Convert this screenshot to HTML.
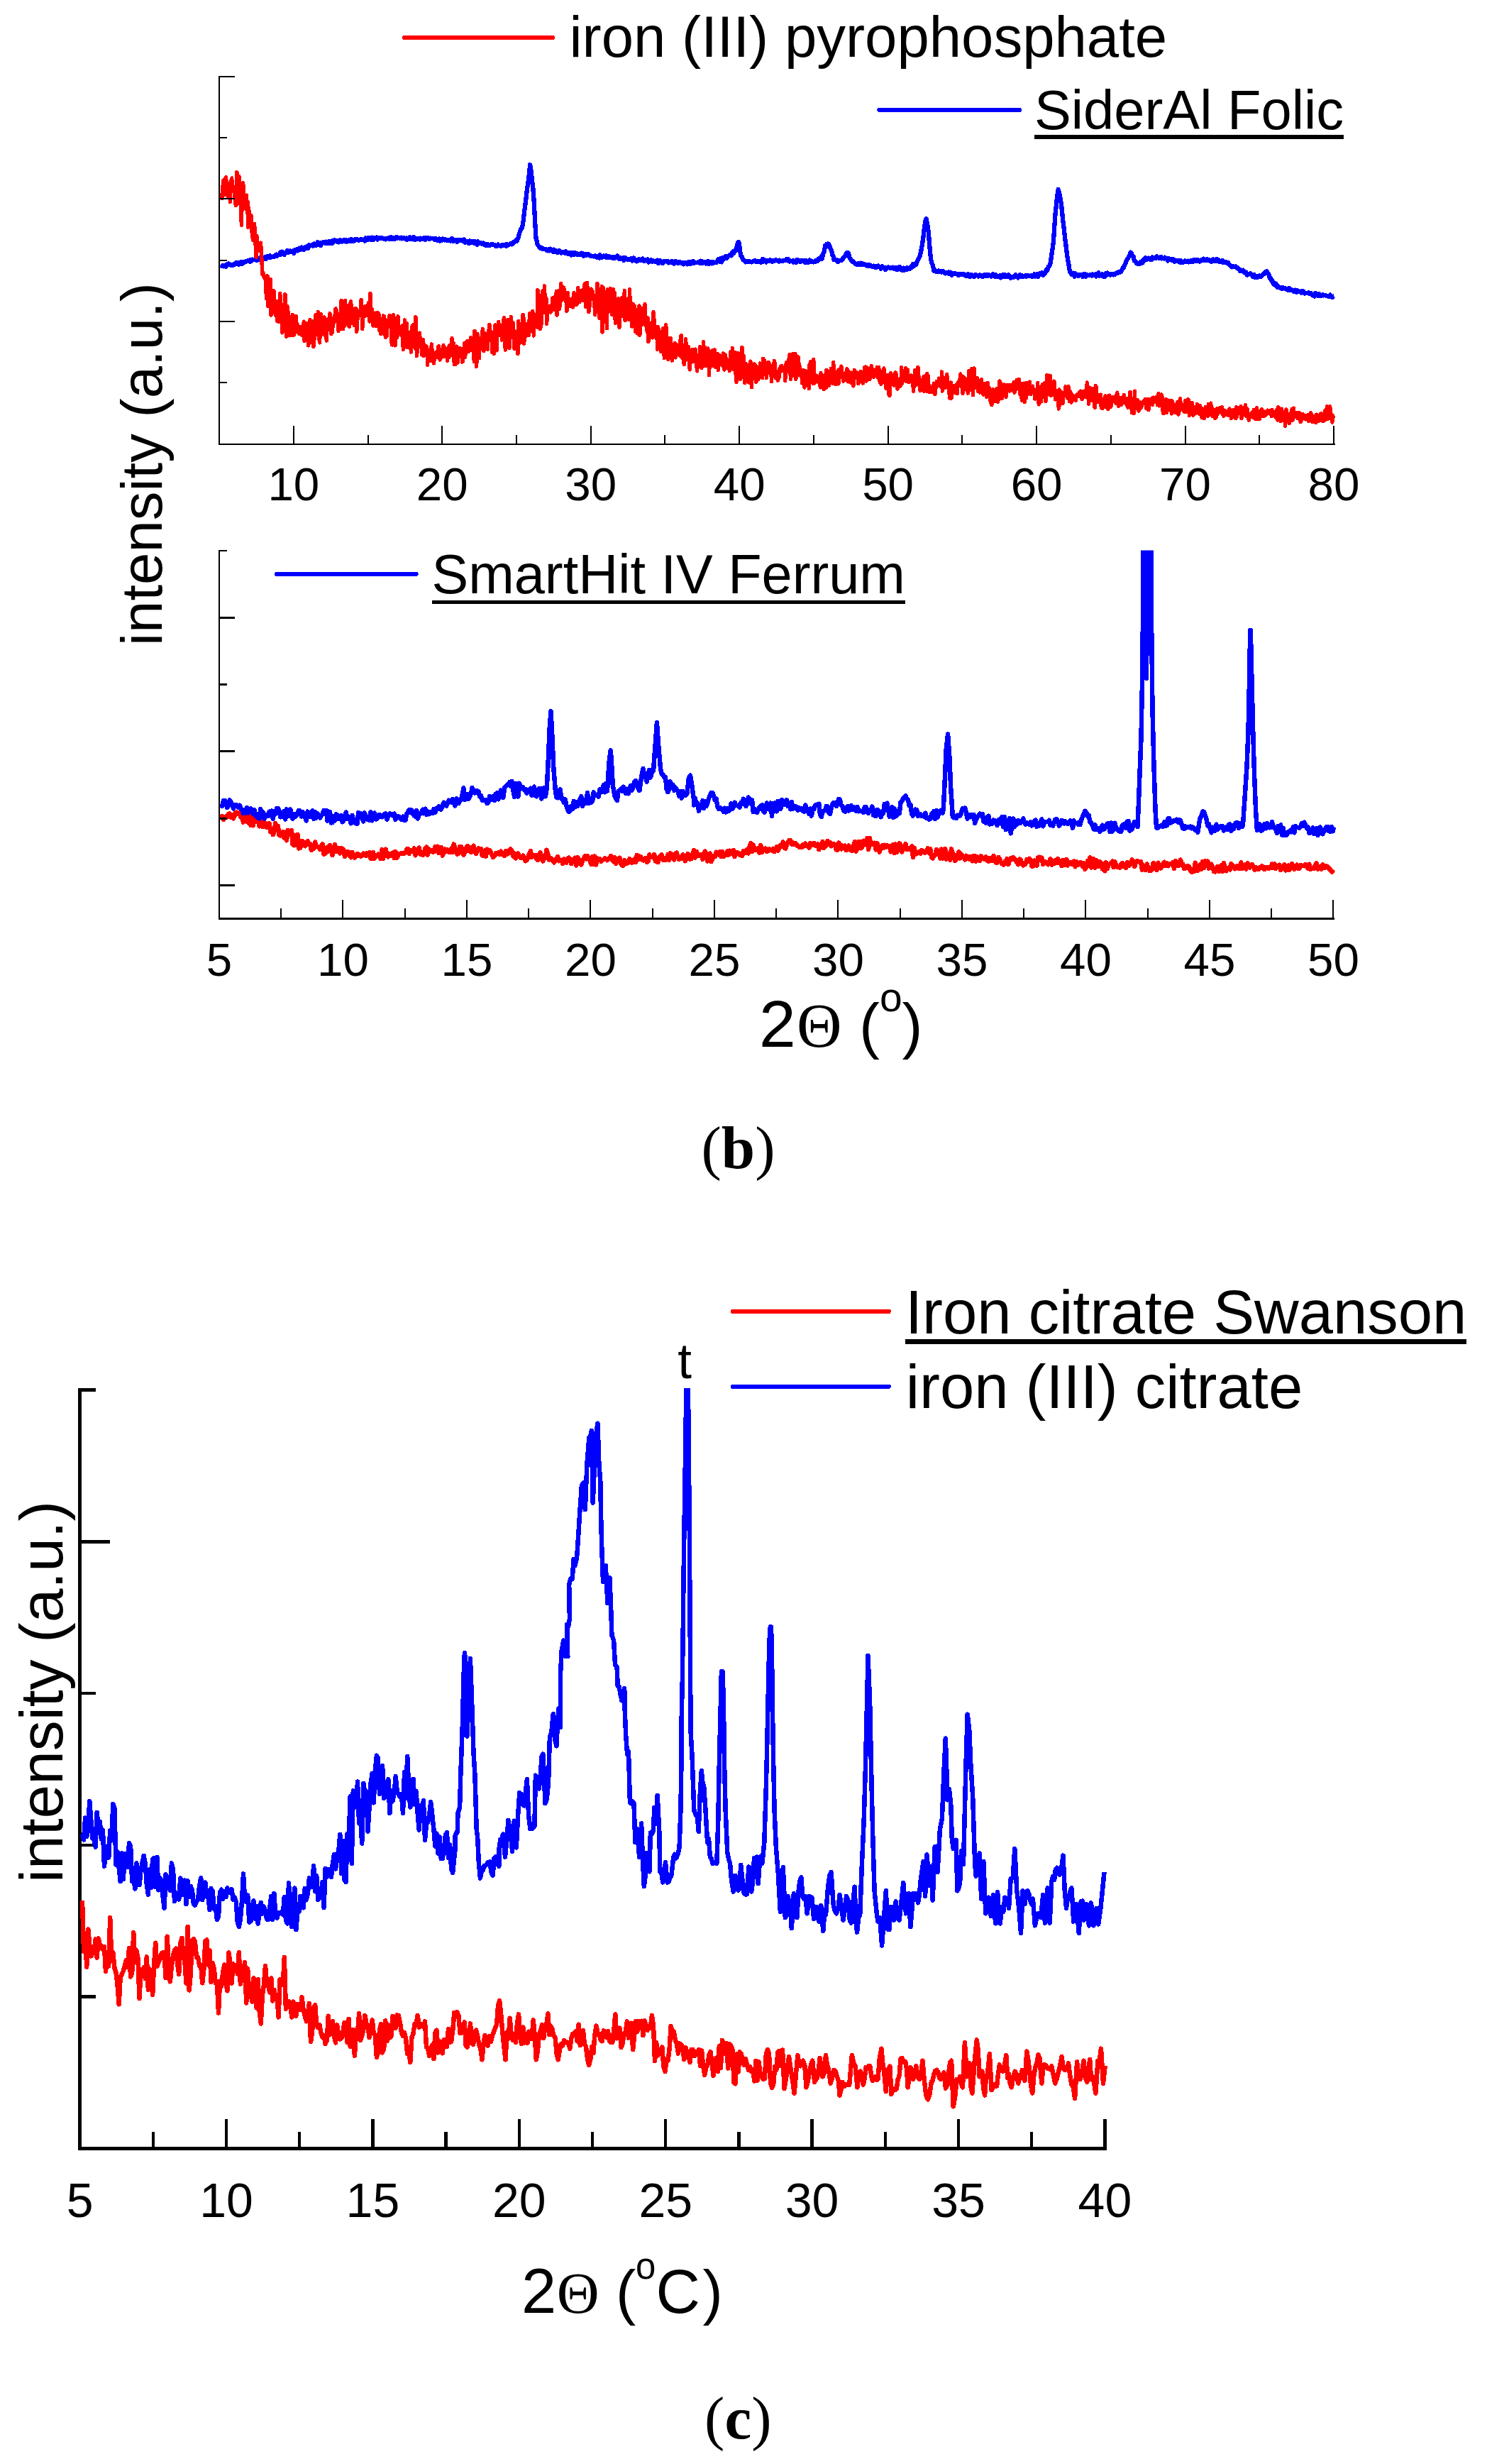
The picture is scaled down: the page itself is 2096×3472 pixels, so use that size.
<!DOCTYPE html>
<html><head><meta charset="utf-8"><title>XRD figure</title>
<style>
html,body{margin:0;padding:0;background:#fff;}
body{width:2096px;height:3472px;overflow:hidden;}
svg{display:block;}
svg line, svg polyline{shape-rendering:crispEdges;}
svg text{font-family:"Liberation Sans",Arial,sans-serif;fill:#000;}
svg .sf, svg .sf text, svg text.sf{font-family:"Liberation Serif","Times New Roman",serif;}
</style></head><body>
<svg width="2096" height="3472" viewBox="0 0 2096 3472">
<rect width="2096" height="3472" fill="#fff"/>
<g id="chartA">
<polyline fill="none" stroke="#00f" stroke-width="6.3" stroke-linejoin="round" stroke-linecap="butt" points="311.5,373.3 312.6,375.0 313.6,374.2 314.7,373.8 315.7,375.2 316.8,374.0 317.8,373.5 318.9,375.6 319.9,372.8 321.0,371.8 322.0,371.5 323.1,372.2 324.1,373.4 325.2,373.4 326.2,373.5 327.3,374.1 328.3,373.8 329.4,372.4 330.4,373.0 331.5,372.1 332.5,370.5 333.6,371.9 334.6,370.8 335.7,370.4 336.7,372.6 337.8,371.1 338.8,369.5 339.9,369.7 340.9,372.2 342.0,369.1 343.0,370.0 344.1,369.7 345.1,369.3 346.2,369.2 347.2,367.8 348.3,367.6 349.3,367.7 350.4,367.3 351.4,368.4 352.5,369.0 353.5,366.1 354.6,367.5 355.6,365.6 356.7,365.7 357.7,366.0 358.8,366.2 359.8,365.4 360.9,362.8 361.9,367.0 363.0,365.0 364.0,364.4 365.1,365.7 366.1,364.1 367.2,363.0 368.2,364.9 369.3,364.6 370.3,363.1 371.4,364.7 372.4,364.0 373.5,362.2 374.5,365.2 375.6,363.3 376.6,361.5 377.7,363.0 378.7,362.4 379.8,363.1 380.8,360.2 381.9,362.6 382.9,362.2 384.0,361.7 385.0,361.3 386.1,361.9 387.1,360.9 388.2,360.0 389.2,358.7 390.3,360.6 391.3,360.2 392.4,359.2 393.4,358.7 394.5,359.1 395.5,355.2 396.6,358.1 397.6,354.7 398.7,357.5 399.7,358.1 400.8,358.8 401.8,355.9 402.9,356.6 403.9,355.8 405.0,353.1 406.0,356.1 407.1,355.0 408.1,354.8 409.2,353.4 410.2,354.1 411.3,354.0 412.3,355.0 413.4,353.6 414.4,356.9 415.5,352.3 416.5,352.2 417.6,352.1 418.6,351.0 419.7,353.3 420.7,352.1 421.8,349.6 422.8,350.9 423.9,351.7 424.9,348.6 426.0,350.0 427.0,349.3 428.1,351.9 429.1,349.4 430.2,348.2 431.2,347.7 432.3,350.2 433.3,347.3 434.4,350.0 435.4,345.4 436.5,346.7 437.5,346.3 438.6,345.5 439.6,345.8 440.7,346.5 441.7,344.7 442.8,343.5 443.8,346.4 444.9,346.3 445.9,343.8 447.0,344.7 448.0,341.3 449.1,345.1 450.1,342.3 451.2,343.0 452.2,345.9 453.3,341.9 454.3,343.1 455.4,341.7 456.4,340.7 457.5,341.2 458.5,342.7 459.6,340.7 460.6,341.3 461.7,342.6 462.7,341.5 463.8,340.0 464.8,342.9 465.9,341.2 466.9,342.5 468.0,339.6 469.0,342.4 470.1,338.9 471.1,338.4 472.2,339.8 473.2,339.8 474.3,340.4 475.3,339.4 476.4,340.7 477.4,341.4 478.5,339.1 479.5,338.2 480.6,339.2 481.6,340.5 482.7,340.4 483.7,339.1 484.8,338.3 485.8,339.3 486.9,340.3 487.9,338.4 489.0,340.5 490.0,339.3 491.1,339.3 492.1,338.2 493.2,340.3 494.2,338.8 495.3,337.0 496.3,339.5 497.4,338.0 498.4,339.6 499.5,338.5 500.5,337.5 501.6,338.4 502.6,337.5 503.7,337.1 504.7,337.9 505.8,338.8 506.8,337.8 507.9,337.6 508.9,337.0 510.0,338.2 511.0,337.8 512.1,338.4 513.1,337.7 514.2,339.6 515.2,335.4 516.3,337.0 517.3,337.6 518.4,337.9 519.4,335.1 520.5,335.4 521.5,336.6 522.6,337.8 523.6,337.7 524.7,334.7 525.7,336.5 526.8,337.6 527.8,336.3 528.9,335.1 529.9,335.4 531.0,334.7 532.0,337.5 533.1,335.9 534.1,335.6 535.2,335.1 536.2,335.9 537.3,335.0 538.3,334.9 539.4,335.9 540.4,335.7 541.5,336.5 542.5,336.1 543.6,337.2 544.6,335.8 545.7,336.1 546.7,336.1 547.8,334.9 548.8,337.1 549.9,335.1 550.9,333.9 552.0,337.1 553.0,336.4 554.1,335.0 555.1,336.7 556.2,336.6 557.2,336.4 558.3,334.3 559.3,335.8 560.4,334.5 561.4,334.9 562.4,335.0 563.5,334.7 564.5,336.2 565.6,334.8 566.6,336.4 567.7,335.9 568.7,335.0 569.8,335.9 570.8,336.5 571.9,337.0 572.9,335.5 574.0,337.7 575.0,336.4 576.1,337.2 577.1,334.3 578.2,334.6 579.2,337.1 580.3,335.6 581.3,336.3 582.4,337.2 583.4,334.2 584.5,336.4 585.5,338.0 586.6,336.8 587.6,336.0 588.7,336.5 589.7,335.9 590.8,336.8 591.8,337.4 592.9,335.7 593.9,336.6 595.0,336.4 596.0,336.9 597.1,337.1 598.1,335.1 599.2,337.6 600.2,337.4 601.3,335.3 602.3,336.2 603.4,335.0 604.4,336.4 605.5,337.1 606.5,335.6 607.6,336.1 608.6,336.0 609.7,336.3 610.7,336.3 611.8,336.0 612.8,337.9 613.9,337.1 614.9,336.5 616.0,338.6 617.0,337.0 618.1,338.7 619.1,336.4 620.2,339.4 621.2,337.4 622.3,336.8 623.3,338.4 624.4,336.5 625.4,336.8 626.5,338.3 627.5,337.5 628.6,338.5 629.6,338.3 630.7,338.4 631.7,338.3 632.8,339.0 633.8,338.2 634.9,339.5 635.9,339.3 637.0,336.1 638.0,336.4 639.1,340.1 640.1,337.9 641.2,338.6 642.2,338.3 643.3,338.8 644.3,341.0 645.4,337.8 646.4,338.7 647.5,338.7 648.5,337.7 649.6,338.1 650.6,338.9 651.7,339.3 652.7,339.9 653.8,337.5 654.8,338.1 655.9,341.8 656.9,339.9 658.0,341.2 659.0,340.0 660.1,339.8 661.1,343.1 662.2,339.6 663.2,340.1 664.3,342.0 665.3,341.4 666.4,339.8 667.4,341.9 668.5,342.7 669.5,340.4 670.6,341.6 671.6,343.2 672.7,344.6 673.7,340.1 674.8,342.1 675.8,343.0 676.9,342.1 677.9,342.3 679.0,342.9 680.0,344.1 681.1,342.5 682.1,344.8 683.2,344.9 684.2,345.1 685.3,346.0 686.3,343.8 687.4,344.5 688.4,345.8 689.5,346.2 690.5,346.0 691.6,344.6 692.6,344.7 693.7,343.9 694.7,345.0 695.8,344.7 696.8,345.3 697.9,345.5 698.9,347.0 700.0,347.0 701.0,346.0 702.1,344.7 703.1,345.8 704.2,346.3 705.2,346.7 706.3,345.9 707.3,346.5 708.4,344.8 709.4,346.2 710.5,346.3 711.5,345.0 712.6,344.5 713.6,346.6 714.7,344.1 715.7,345.9 716.8,344.8 717.8,344.6 718.9,344.2 719.9,343.2 721.0,343.0 722.0,344.3 723.1,343.2 724.1,340.8 725.2,340.8 726.2,340.5 727.3,338.4 728.3,340.2 729.4,337.4 730.4,335.2 731.5,330.6 732.5,327.5 733.6,324.7 734.6,322.2 735.7,321.2 736.7,316.8 737.8,310.6 738.8,300.8 739.9,291.8 740.9,284.6 742.0,275.6 743.0,265.8 744.1,259.2 745.1,251.9 746.2,241.9 747.2,232.3 748.3,238.5 749.3,247.2 750.4,257.5 751.4,265.9 752.5,280.8 753.5,300.0 754.6,320.2 755.6,336.4 756.7,339.1 757.7,345.3 758.8,346.2 759.8,347.5 760.9,349.5 761.9,348.2 763.0,349.1 764.0,350.5 765.1,349.7 766.1,350.4 767.2,351.1 768.2,351.0 769.3,350.9 770.3,352.0 771.4,353.1 772.4,353.4 773.5,351.3 774.5,353.3 775.6,350.6 776.6,351.3 777.7,353.5 778.7,353.8 779.8,354.9 780.8,351.7 781.9,354.9 782.9,353.3 784.0,353.6 785.0,354.7 786.1,356.0 787.1,353.6 788.2,352.9 789.2,354.3 790.3,355.0 791.3,356.6 792.4,355.9 793.4,355.3 794.5,355.3 795.5,355.5 796.6,357.2 797.6,354.5 798.7,355.7 799.7,355.6 800.8,358.0 801.8,357.0 802.9,356.3 803.9,358.0 805.0,359.4 806.0,358.5 807.1,356.1 808.1,357.4 809.2,359.0 810.2,355.9 811.3,356.7 812.3,357.7 813.4,358.9 814.4,357.5 815.5,358.7 816.5,358.5 817.6,359.2 818.6,357.6 819.7,356.6 820.7,356.9 821.8,359.5 822.8,360.6 823.9,360.1 824.9,358.0 826.0,358.0 827.0,359.7 828.1,359.1 829.1,358.2 830.2,359.6 831.2,359.5 832.3,360.3 833.3,361.0 834.4,360.9 835.4,360.9 836.5,361.4 837.5,360.8 838.6,360.5 839.6,360.7 840.7,362.5 841.7,361.0 842.8,362.3 843.8,363.3 844.9,363.5 845.9,359.3 847.0,361.9 848.0,362.9 849.1,361.4 850.1,361.2 851.2,360.6 852.2,361.5 853.3,362.3 854.3,360.3 855.4,362.5 856.4,361.7 857.5,362.7 858.5,361.5 859.6,362.8 860.6,362.9 861.7,362.1 862.7,362.2 863.8,364.1 864.8,363.8 865.9,362.4 866.9,363.8 868.0,362.2 869.0,363.0 870.1,360.5 871.1,363.2 872.2,364.6 873.2,363.4 874.3,364.7 875.3,363.5 876.4,364.6 877.4,364.2 878.5,363.4 879.5,366.9 880.6,363.8 881.6,363.3 882.7,365.1 883.7,365.5 884.8,365.5 885.8,365.1 886.9,365.8 887.9,366.4 889.0,366.1 890.0,364.0 891.1,367.5 892.1,365.7 893.2,363.6 894.2,366.8 895.3,365.8 896.3,366.4 897.4,368.3 898.4,365.7 899.5,365.6 900.5,365.3 901.6,366.7 902.6,367.3 903.7,367.1 904.7,367.0 905.8,364.5 906.8,367.2 907.9,368.2 908.9,366.5 910.0,366.5 911.0,366.1 912.1,367.5 913.1,365.6 914.2,369.5 915.2,367.2 916.3,366.8 917.3,366.2 918.4,368.2 919.4,368.8 920.5,367.1 921.5,368.0 922.6,368.2 923.6,369.0 924.7,368.7 925.7,369.4 926.8,366.6 927.8,371.1 928.9,367.7 929.9,367.1 931.0,367.4 932.0,368.9 933.1,369.4 934.1,371.3 935.2,370.0 936.2,367.9 937.3,368.4 938.3,368.3 939.4,368.2 940.4,368.8 941.5,368.3 942.5,370.3 943.6,369.5 944.6,369.8 945.7,369.0 946.7,368.0 947.8,369.8 948.8,368.9 949.9,371.6 950.9,370.8 952.0,368.2 953.0,368.5 954.1,369.0 955.1,369.4 956.2,371.0 957.2,369.6 958.3,370.3 959.3,369.5 960.4,369.7 961.4,371.3 962.5,370.1 963.5,372.3 964.6,370.1 965.6,370.6 966.7,370.6 967.7,370.9 968.8,372.3 969.8,369.4 970.9,369.5 971.9,369.1 973.0,372.1 974.0,370.6 975.1,370.6 976.1,370.5 977.2,368.0 978.2,370.9 979.3,370.1 980.3,370.3 981.4,370.1 982.4,369.9 983.5,369.9 984.5,369.3 985.6,369.7 986.6,370.6 987.7,367.6 988.7,370.8 989.8,370.6 990.8,368.7 991.9,370.4 992.9,370.1 994.0,369.1 995.0,371.5 996.1,369.8 997.1,369.4 998.2,368.0 999.2,371.8 1000.3,369.6 1001.3,369.6 1002.4,368.9 1003.4,371.4 1004.5,368.9 1005.5,370.7 1006.6,370.1 1007.6,369.9 1008.7,369.5 1009.7,370.0 1010.8,368.5 1011.8,365.9 1012.9,364.8 1013.9,368.5 1015.0,364.6 1016.0,367.8 1017.1,369.3 1018.1,363.4 1019.2,365.7 1020.2,365.1 1021.3,363.3 1022.3,361.3 1023.4,362.7 1024.4,364.0 1025.5,361.3 1026.5,360.7 1027.6,360.1 1028.6,359.3 1029.7,358.9 1030.7,360.3 1031.8,356.2 1032.8,354.6 1033.9,357.0 1034.9,354.9 1036.0,354.4 1037.0,352.7 1038.1,349.7 1039.1,345.0 1040.2,341.5 1041.2,341.0 1042.3,346.3 1043.3,355.0 1044.4,360.8 1045.4,360.9 1046.5,363.9 1047.5,366.3 1048.6,366.7 1049.6,367.7 1050.7,369.3 1051.7,367.9 1052.8,367.8 1053.8,369.1 1054.9,368.3 1055.9,367.8 1057.0,368.7 1058.0,368.7 1059.1,369.4 1060.1,369.4 1061.2,368.4 1062.2,368.2 1063.3,367.2 1064.3,368.4 1065.4,367.7 1066.4,369.0 1067.5,368.9 1068.5,368.7 1069.6,367.9 1070.6,368.3 1071.7,369.6 1072.7,369.8 1073.8,367.2 1074.8,364.8 1075.9,368.5 1076.9,366.1 1078.0,367.8 1079.0,368.3 1080.1,369.4 1081.1,367.5 1082.2,367.6 1083.2,367.0 1084.3,368.0 1085.3,366.3 1086.4,368.2 1087.4,367.9 1088.5,369.0 1089.5,367.2 1090.6,367.9 1091.6,367.7 1092.7,367.4 1093.7,366.4 1094.8,366.8 1095.8,367.4 1096.9,367.9 1097.9,368.5 1099.0,366.7 1100.0,367.6 1101.1,367.9 1102.1,368.2 1103.2,367.5 1104.2,367.4 1105.3,366.8 1106.3,367.3 1107.4,367.1 1108.4,365.5 1109.5,366.6 1110.5,364.8 1111.6,368.0 1112.6,368.5 1113.7,367.2 1114.7,367.8 1115.8,367.8 1116.8,367.4 1117.9,369.4 1118.9,367.6 1120.0,368.2 1121.0,367.8 1122.1,370.1 1123.1,366.2 1124.2,368.3 1125.2,366.6 1126.3,367.3 1127.3,367.1 1128.4,369.0 1129.4,367.1 1130.5,367.2 1131.5,368.0 1132.6,367.3 1133.6,367.2 1134.7,370.0 1135.7,367.5 1136.8,367.3 1137.8,369.7 1138.9,368.3 1139.9,369.4 1141.0,366.4 1142.0,367.8 1143.1,368.6 1144.1,368.3 1145.2,368.6 1146.2,369.4 1147.3,368.6 1148.3,369.2 1149.4,368.8 1150.4,366.9 1151.5,367.2 1152.5,367.8 1153.6,364.6 1154.6,365.6 1155.7,365.0 1156.7,365.1 1157.8,361.1 1158.8,364.9 1159.9,358.4 1160.9,355.9 1162.0,354.4 1163.0,346.0 1164.1,348.0 1165.1,344.2 1166.2,344.5 1167.2,343.5 1168.3,344.7 1169.3,346.3 1170.4,349.5 1171.4,351.4 1172.5,354.5 1173.5,359.7 1174.6,360.9 1175.6,366.1 1176.7,366.1 1177.7,366.5 1178.8,366.0 1179.8,366.3 1180.9,369.1 1181.9,367.6 1183.0,367.2 1184.0,366.7 1185.1,366.7 1186.1,367.2 1187.2,366.2 1188.2,364.0 1189.3,362.9 1190.3,361.9 1191.4,359.9 1192.4,358.8 1193.5,356.1 1194.5,357.6 1195.6,356.5 1196.6,359.6 1197.7,363.7 1198.7,364.3 1199.8,366.4 1200.8,367.9 1201.9,368.1 1202.9,369.7 1204.0,369.8 1205.0,370.9 1206.1,371.9 1207.1,372.6 1208.2,372.7 1209.2,371.8 1210.3,371.1 1211.3,372.5 1212.4,373.0 1213.4,370.6 1214.5,373.0 1215.5,371.5 1216.6,372.8 1217.6,373.3 1218.7,372.5 1219.7,373.2 1220.8,373.9 1221.8,372.9 1222.9,374.9 1223.9,375.0 1225.0,375.0 1226.0,373.4 1227.1,374.5 1228.1,374.5 1229.2,375.1 1230.2,376.0 1231.3,374.7 1232.3,375.4 1233.4,376.5 1234.4,375.3 1235.5,376.6 1236.5,375.9 1237.6,374.6 1238.6,376.2 1239.7,376.5 1240.7,376.1 1241.8,378.8 1242.8,376.4 1243.9,375.3 1244.9,376.9 1246.0,376.9 1247.0,377.7 1248.1,380.0 1249.1,377.5 1250.2,378.3 1251.2,376.7 1252.3,376.5 1253.3,376.8 1254.4,377.5 1255.4,377.2 1256.5,377.8 1257.5,377.2 1258.6,376.6 1259.6,377.2 1260.7,378.9 1261.7,376.9 1262.8,379.1 1263.8,380.1 1264.9,377.3 1265.9,379.4 1267.0,379.4 1268.0,375.8 1269.1,379.8 1270.1,379.7 1271.2,378.3 1272.2,381.3 1273.3,377.6 1274.3,381.1 1275.4,380.2 1276.4,378.8 1277.5,379.6 1278.5,377.4 1279.6,379.3 1280.6,378.8 1281.7,379.1 1282.7,378.9 1283.8,376.2 1284.8,377.1 1285.9,375.3 1286.9,371.8 1288.0,375.1 1289.0,374.4 1290.1,372.4 1291.1,373.2 1292.2,370.2 1293.2,367.3 1294.3,365.9 1295.3,363.3 1296.4,361.1 1297.4,357.5 1298.5,352.7 1299.5,347.0 1300.6,339.8 1301.6,332.8 1302.7,322.6 1303.7,315.4 1304.8,309.7 1305.8,308.3 1306.9,315.6 1307.9,320.2 1309.0,329.2 1310.0,343.0 1311.1,355.6 1312.1,365.0 1313.2,370.2 1314.2,372.3 1315.3,375.6 1316.3,381.6 1317.4,380.3 1318.4,381.2 1319.5,382.4 1320.5,383.2 1321.6,382.1 1322.6,381.5 1323.7,382.5 1324.7,382.2 1325.8,383.2 1326.8,383.6 1327.9,382.2 1328.9,383.1 1330.0,382.6 1331.0,384.2 1332.1,385.3 1333.1,385.4 1334.2,384.9 1335.2,383.8 1336.3,384.9 1337.3,383.6 1338.4,385.9 1339.4,383.7 1340.5,384.8 1341.5,387.6 1342.6,386.3 1343.6,384.9 1344.7,385.9 1345.7,385.1 1346.8,385.5 1347.8,386.1 1348.9,385.7 1349.9,387.0 1351.0,388.0 1352.0,385.9 1353.1,385.9 1354.1,386.1 1355.2,386.4 1356.2,387.2 1357.3,386.4 1358.3,386.2 1359.4,386.5 1360.4,388.4 1361.5,388.4 1362.5,388.6 1363.6,387.7 1364.6,386.5 1365.7,389.1 1366.7,390.1 1367.8,387.0 1368.8,387.1 1369.9,389.0 1370.9,388.6 1372.0,388.3 1373.0,390.2 1374.1,387.8 1375.1,387.2 1376.2,387.7 1377.2,388.4 1378.3,388.4 1379.3,389.6 1380.4,389.1 1381.4,387.5 1382.5,389.1 1383.5,388.1 1384.6,390.0 1385.6,389.6 1386.7,387.8 1387.7,389.0 1388.8,387.0 1389.8,389.0 1390.9,388.6 1391.9,389.0 1393.0,387.2 1394.0,387.6 1395.1,388.0 1396.1,388.3 1397.2,389.4 1398.2,387.7 1399.3,386.4 1400.3,388.1 1401.4,389.5 1402.4,389.7 1403.5,387.3 1404.5,389.5 1405.6,388.9 1406.6,389.6 1407.7,389.0 1408.7,390.2 1409.8,388.1 1410.8,391.3 1411.9,390.1 1412.9,387.6 1414.0,387.2 1415.0,390.1 1416.1,387.3 1417.1,388.1 1418.2,389.8 1419.2,389.4 1420.3,389.9 1421.3,387.4 1422.4,388.9 1423.4,390.3 1424.5,392.0 1425.5,390.1 1426.6,389.7 1427.6,389.8 1428.7,390.7 1429.7,390.3 1430.8,388.6 1431.8,387.4 1432.9,389.3 1433.9,389.1 1435.0,391.5 1436.0,388.5 1437.1,390.3 1438.1,387.3 1439.2,390.3 1440.2,388.0 1441.3,389.4 1442.3,389.2 1443.4,389.5 1444.4,389.3 1445.5,388.0 1446.5,389.9 1447.6,388.2 1448.6,389.1 1449.7,388.1 1450.7,389.0 1451.8,388.9 1452.8,388.7 1453.9,388.0 1454.9,390.2 1456.0,388.6 1457.0,388.9 1458.1,386.3 1459.1,389.4 1460.2,386.9 1461.2,388.4 1462.3,386.0 1463.3,390.0 1464.4,385.6 1465.4,386.8 1466.5,385.4 1467.5,385.0 1468.6,384.0 1469.6,387.2 1470.7,387.6 1471.7,384.7 1472.8,385.3 1473.8,382.2 1474.9,380.0 1475.9,381.6 1477.0,378.8 1478.0,375.2 1479.1,374.8 1480.1,373.3 1481.2,366.6 1482.2,359.8 1483.3,352.2 1484.3,345.8 1485.4,333.3 1486.4,317.7 1487.5,301.4 1488.5,293.1 1489.6,282.0 1490.6,273.3 1491.7,266.7 1492.7,271.2 1493.8,274.4 1494.8,281.5 1495.9,286.6 1496.9,296.9 1498.0,307.7 1499.0,316.6 1500.1,325.5 1501.1,335.2 1502.2,343.1 1503.2,352.3 1504.3,360.5 1505.3,367.2 1506.4,372.8 1507.4,379.2 1508.5,383.8 1509.5,384.8 1510.6,386.6 1511.6,385.6 1512.7,384.7 1513.7,387.4 1514.8,389.8 1515.8,385.2 1516.9,388.2 1517.9,387.2 1519.0,386.8 1520.0,389.3 1521.1,388.3 1522.1,388.3 1523.2,386.8 1524.2,387.6 1525.3,386.9 1526.3,389.8 1527.4,388.0 1528.4,385.8 1529.5,387.6 1530.5,389.6 1531.6,387.0 1532.6,387.5 1533.7,387.7 1534.7,388.3 1535.8,388.3 1536.8,387.0 1537.9,387.3 1538.9,388.5 1540.0,386.5 1541.0,387.3 1542.1,388.0 1543.1,387.3 1544.2,386.5 1545.2,389.4 1546.3,387.7 1547.3,387.2 1548.4,384.3 1549.4,388.7 1550.5,388.5 1551.5,387.4 1552.6,387.4 1553.6,386.4 1554.7,389.5 1555.7,388.2 1556.8,389.6 1557.8,389.6 1558.9,385.0 1559.9,387.7 1561.0,384.6 1562.0,387.2 1563.1,386.8 1564.1,386.1 1565.2,387.4 1566.2,386.7 1567.3,386.2 1568.3,386.2 1569.4,387.4 1570.4,386.9 1571.5,386.9 1572.5,385.9 1573.6,384.7 1574.6,384.2 1575.7,384.6 1576.7,383.1 1577.8,382.8 1578.8,383.9 1579.9,382.9 1580.9,380.8 1582.0,379.4 1583.0,376.9 1584.1,376.9 1585.1,373.5 1586.2,371.9 1587.2,368.7 1588.3,367.1 1589.3,364.1 1590.4,363.6 1591.4,361.4 1592.5,359.1 1593.5,355.7 1594.6,356.4 1595.6,359.0 1596.7,360.5 1597.7,361.3 1598.8,367.6 1599.8,367.5 1600.9,369.4 1601.9,370.7 1603.0,370.5 1604.0,372.2 1605.1,371.0 1606.1,372.0 1607.2,370.3 1608.2,368.7 1609.3,368.8 1610.3,370.5 1611.4,366.5 1612.4,366.1 1613.5,366.9 1614.5,363.2 1615.6,364.6 1616.6,365.7 1617.7,365.1 1618.7,363.8 1619.8,364.6 1620.8,364.8 1621.9,365.8 1622.9,366.0 1624.0,362.6 1625.0,364.5 1626.1,363.4 1627.1,364.2 1628.2,363.1 1629.2,363.7 1630.3,361.4 1631.3,363.0 1632.4,363.1 1633.4,363.6 1634.5,363.6 1635.5,362.2 1636.6,361.9 1637.6,364.3 1638.7,363.6 1639.7,363.9 1640.8,364.6 1641.8,362.7 1642.9,363.6 1643.9,364.0 1645.0,364.1 1646.0,367.4 1647.1,363.8 1648.1,365.8 1649.2,366.1 1650.2,365.4 1651.3,366.9 1652.3,365.7 1653.4,365.3 1654.4,365.6 1655.5,368.6 1656.5,366.9 1657.6,367.7 1658.6,368.3 1659.7,368.3 1660.7,367.2 1661.8,369.1 1662.8,369.5 1663.9,367.0 1664.9,369.6 1666.0,369.2 1667.0,369.8 1668.1,369.2 1669.1,368.3 1670.2,367.6 1671.2,369.1 1672.3,368.8 1673.3,368.8 1674.4,367.7 1675.4,369.5 1676.5,369.2 1677.5,369.3 1678.6,367.5 1679.6,368.7 1680.7,369.1 1681.7,366.5 1682.8,367.1 1683.8,368.2 1684.9,366.2 1685.9,367.6 1687.0,367.7 1688.0,365.9 1689.1,368.0 1690.1,367.3 1691.2,368.5 1692.2,367.0 1693.3,366.4 1694.3,366.8 1695.4,367.2 1696.4,364.6 1697.5,366.2 1698.5,367.2 1699.6,367.3 1700.6,366.9 1701.7,365.3 1702.7,366.4 1703.8,367.0 1704.8,366.6 1705.9,366.7 1706.9,368.6 1708.0,368.7 1709.0,366.1 1710.1,365.6 1711.1,366.7 1712.2,368.1 1713.2,365.6 1714.3,365.7 1715.3,365.4 1716.4,368.0 1717.4,366.3 1718.5,367.0 1719.5,369.2 1720.6,368.4 1721.6,367.7 1722.7,366.9 1723.7,369.9 1724.8,369.1 1725.8,368.9 1726.9,369.9 1727.9,369.1 1729.0,370.5 1730.0,371.0 1731.1,370.1 1732.1,372.1 1733.2,373.0 1734.2,374.5 1735.3,374.4 1736.3,376.3 1737.4,375.4 1738.4,375.0 1739.5,375.9 1740.5,376.1 1741.6,375.5 1742.6,376.9 1743.7,377.8 1744.7,377.1 1745.8,378.8 1746.8,380.0 1747.9,381.9 1748.9,380.5 1750.0,380.9 1751.0,381.1 1752.1,380.7 1753.1,383.7 1754.2,383.1 1755.2,383.5 1756.3,383.6 1757.3,387.1 1758.4,387.5 1759.4,387.0 1760.5,386.4 1761.5,385.8 1762.6,385.0 1763.6,386.9 1764.7,387.2 1765.7,389.9 1766.8,388.3 1767.8,387.1 1768.9,390.8 1769.9,390.2 1771.0,389.4 1772.0,390.5 1773.1,390.6 1774.1,389.2 1775.2,388.5 1776.2,389.3 1777.3,389.6 1778.3,389.2 1779.4,387.1 1780.4,386.4 1781.5,386.2 1782.5,384.3 1783.6,383.4 1784.6,384.7 1785.7,382.2 1786.7,385.0 1787.8,385.5 1788.8,388.2 1789.9,391.8 1790.9,392.1 1792.0,395.1 1793.0,394.6 1794.1,397.9 1795.1,400.6 1796.2,399.4 1797.2,399.7 1798.3,399.6 1799.3,403.5 1800.4,402.5 1801.4,404.9 1802.5,404.3 1803.5,404.8 1804.6,406.2 1805.6,405.7 1806.7,407.0 1807.7,405.2 1808.8,405.4 1809.8,406.3 1810.9,405.8 1811.9,406.4 1813.0,407.7 1814.0,407.3 1815.1,407.0 1816.1,409.2 1817.2,406.0 1818.2,407.1 1819.3,407.7 1820.3,409.2 1821.4,409.1 1822.4,409.2 1823.5,410.5 1824.5,409.1 1825.6,408.6 1826.6,411.0 1827.7,411.7 1828.7,409.2 1829.8,409.8 1830.8,410.6 1831.9,411.4 1832.9,411.4 1834.0,412.4 1835.0,410.0 1836.1,411.4 1837.1,410.4 1838.2,413.2 1839.2,413.5 1840.3,412.8 1841.3,412.8 1842.4,412.8 1843.4,413.0 1844.5,412.4 1845.5,413.9 1846.6,414.3 1847.6,413.0 1848.7,414.4 1849.7,415.7 1850.8,416.0 1851.8,416.9 1852.9,417.6 1853.9,413.1 1855.0,414.3 1856.0,414.5 1857.1,415.6 1858.1,416.9 1859.2,413.8 1860.2,416.1 1861.3,416.0 1862.3,417.1 1863.4,416.4 1864.4,415.3 1865.5,416.4 1866.5,415.7 1867.6,416.2 1868.6,416.2 1869.7,416.6 1870.7,417.2 1871.8,417.3 1872.8,418.3 1873.9,418.0 1874.9,415.6 1876.0,418.3 1877.0,417.4 1878.1,419.1 1879.1,417.7 1880.2,417.5"/>
<polyline fill="none" stroke="#f00" stroke-width="5.4" stroke-linejoin="round" stroke-linecap="butt" points="311.5,272.1 312.3,277.6 313.1,279.3 313.9,265.1 314.7,254.2 315.5,264.0 316.3,268.7 317.1,274.2 317.9,251.3 318.7,250.0 319.5,269.1 320.3,266.3 321.1,276.3 321.9,270.4 322.7,259.3 323.5,258.4 324.3,284.4 325.1,260.0 325.9,254.9 326.7,251.0 327.5,267.6 328.3,269.3 329.1,263.5 329.9,268.4 330.7,274.4 331.5,282.0 332.3,289.8 333.1,276.5 333.9,242.9 334.7,287.3 335.5,249.5 336.3,273.3 337.1,248.7 337.9,278.3 338.7,263.6 339.5,283.3 340.3,317.2 341.1,279.3 341.9,295.9 342.7,257.8 343.5,276.7 344.3,293.5 345.1,281.2 345.9,290.8 346.7,288.9 347.5,275.0 348.3,299.9 349.1,283.8 349.9,320.3 350.7,293.4 351.5,309.3 352.3,304.1 353.1,316.9 353.9,303.1 354.7,325.9 355.5,314.8 356.3,338.3 357.1,332.8 357.9,328.5 358.7,315.4 359.5,344.4 360.3,341.5 361.1,362.7 361.9,332.6 362.7,349.5 363.5,351.0 364.3,349.9 365.1,351.1 365.9,353.1 366.7,345.0 367.5,342.2 368.3,353.6 369.1,370.5 369.9,386.9 370.7,384.0 371.5,389.2 372.3,389.6 373.1,392.6 373.9,389.4 374.7,402.0 375.5,420.6 376.3,391.9 377.1,388.8 377.9,431.3 378.7,407.8 379.5,421.4 380.3,422.4 381.1,393.4 381.9,444.0 382.7,442.2 383.5,419.6 384.3,430.1 385.1,422.6 385.9,409.7 386.7,423.0 387.5,431.9 388.3,444.3 389.1,440.3 389.9,433.1 390.7,452.7 391.5,424.4 392.3,447.6 393.1,453.6 393.9,434.4 394.7,413.3 395.5,427.5 396.3,445.9 397.1,451.7 397.9,468.9 398.7,429.2 399.5,444.8 400.3,454.7 401.1,442.4 401.9,414.8 402.7,456.7 403.5,474.2 404.3,459.4 405.1,431.5 405.9,438.8 406.7,447.9 407.5,472.9 408.3,453.3 409.1,446.3 409.9,467.1 410.7,447.0 411.5,472.8 412.3,443.6 413.1,448.1 413.9,463.1 414.7,471.8 415.5,465.3 416.3,463.5 417.1,445.3 417.9,455.6 418.7,456.8 419.5,457.8 420.3,468.2 421.1,460.1 421.9,470.6 422.7,464.4 423.5,460.9 424.3,465.3 425.1,468.4 425.9,472.5 426.7,460.7 427.5,463.2 428.3,453.2 429.1,480.5 429.9,479.5 430.7,464.9 431.5,462.5 432.3,455.8 433.1,469.1 433.9,469.8 434.7,486.9 435.5,470.9 436.3,461.6 437.1,450.4 437.9,482.9 438.7,471.7 439.5,454.7 440.3,471.2 441.1,452.7 441.9,488.8 442.7,479.4 443.5,473.2 444.3,464.6 445.1,443.5 445.9,463.8 446.7,446.5 447.5,471.2 448.3,439.2 449.1,451.6 449.9,477.6 450.7,482.8 451.5,446.6 452.3,442.3 453.1,471.8 453.9,471.1 454.7,449.0 455.5,452.4 456.3,452.4 457.1,446.8 457.9,452.4 458.7,473.2 459.5,466.8 460.3,480.1 461.1,458.2 461.9,457.5 462.7,449.1 463.5,457.3 464.3,445.9 465.1,441.7 465.9,464.2 466.7,470.6 467.5,464.6 468.3,469.0 469.1,458.1 469.9,447.9 470.7,455.4 471.5,450.1 472.3,441.8 473.1,434.8 473.9,436.2 474.7,451.7 475.5,452.9 476.3,445.3 477.1,466.6 477.9,451.7 478.7,456.0 479.5,463.2 480.3,437.9 481.1,423.3 481.9,456.9 482.7,439.2 483.5,463.8 484.3,451.9 485.1,460.1 485.9,457.2 486.7,423.6 487.5,456.7 488.3,439.9 489.1,439.0 489.9,442.9 490.7,457.5 491.5,458.9 492.3,460.4 493.1,428.5 493.9,441.3 494.7,424.6 495.5,447.3 496.3,455.4 497.1,438.5 497.9,450.2 498.7,449.6 499.5,458.8 500.3,435.3 501.1,434.5 501.9,434.7 502.7,467.1 503.5,458.1 504.3,441.4 505.1,445.6 505.9,443.6 506.7,444.4 507.5,438.1 508.3,435.8 509.1,422.2 509.9,431.0 510.7,463.6 511.5,447.8 512.3,441.2 513.1,437.3 513.9,441.3 514.7,445.4 515.5,431.5 516.3,443.3 517.1,444.0 517.9,430.3 518.7,429.8 519.5,426.9 520.3,426.1 521.1,453.2 521.9,413.4 522.7,437.9 523.5,434.4 524.3,435.4 525.1,445.6 525.9,459.1 526.7,447.1 527.5,445.5 528.3,441.2 529.1,447.6 529.9,459.6 530.7,446.8 531.5,440.5 532.3,440.7 533.1,443.5 533.9,441.9 534.7,465.2 535.5,459.1 536.3,454.3 537.1,470.8 537.9,451.6 538.7,465.6 539.5,466.8 540.3,444.9 541.1,445.4 541.9,452.1 542.7,470.7 543.5,475.3 544.3,450.9 545.1,474.1 545.9,459.7 546.7,459.5 547.5,457.9 548.3,460.2 549.1,444.3 549.9,452.8 550.7,450.2 551.5,469.0 552.3,485.7 553.1,486.0 553.9,459.8 554.7,443.9 555.5,458.9 556.3,452.7 557.1,486.9 557.9,470.4 558.7,455.4 559.5,476.1 560.3,472.0 561.1,445.8 561.9,460.0 562.7,464.2 563.5,468.1 564.3,470.3 565.1,464.7 565.9,472.3 566.7,462.5 567.5,458.9 568.3,492.5 569.1,477.3 569.9,479.1 570.7,451.0 571.5,471.6 572.3,485.6 573.1,455.4 573.9,489.5 574.7,468.1 575.5,479.5 576.3,471.7 577.1,476.7 577.9,490.9 578.7,467.6 579.5,496.1 580.3,462.0 581.1,459.8 581.9,483.6 582.7,457.7 583.5,467.8 584.3,486.4 585.1,490.8 585.9,446.9 586.7,481.1 587.5,501.6 588.3,492.9 589.1,475.1 589.9,472.1 590.7,477.6 591.5,469.2 592.3,481.1 593.1,483.6 593.9,485.5 594.7,500.1 595.5,487.8 596.3,478.5 597.1,501.7 597.9,485.3 598.7,490.9 599.5,494.1 600.3,492.9 601.1,488.1 601.9,494.9 602.7,514.2 603.5,493.1 604.3,497.6 605.1,508.9 605.9,506.3 606.7,507.1 607.5,508.5 608.3,484.9 609.1,494.6 609.9,502.6 610.7,505.3 611.5,511.8 612.3,504.1 613.1,497.2 613.9,499.2 614.7,496.4 615.5,500.0 616.3,503.4 617.1,493.5 617.9,488.6 618.7,487.6 619.5,505.5 620.3,506.9 621.1,504.2 621.9,503.1 622.7,503.0 623.5,495.5 624.3,501.7 625.1,486.5 625.9,494.3 626.7,489.9 627.5,502.8 628.3,491.8 629.1,496.0 629.9,500.4 630.7,508.4 631.5,491.0 632.3,489.1 633.1,503.5 633.9,486.3 634.7,499.7 635.5,489.8 636.3,493.6 637.1,476.4 637.9,500.9 638.7,488.1 639.5,483.4 640.3,513.7 641.1,499.6 641.9,513.7 642.7,495.6 643.5,488.1 644.3,494.2 645.1,511.0 645.9,495.0 646.7,500.9 647.5,502.5 648.3,490.3 649.1,500.9 649.9,496.6 650.7,491.8 651.5,510.0 652.3,509.0 653.1,503.3 653.9,494.2 654.7,483.7 655.5,503.5 656.3,497.4 657.1,481.8 657.9,495.4 658.7,480.3 659.5,493.4 660.3,494.0 661.1,495.1 661.9,492.6 662.7,491.0 663.5,475.6 664.3,484.2 665.1,483.0 665.9,486.4 666.7,492.6 667.5,497.0 668.3,509.6 669.1,466.2 669.9,495.7 670.7,488.6 671.5,516.6 672.3,503.7 673.1,470.7 673.9,497.7 674.7,485.8 675.5,504.8 676.3,477.1 677.1,488.4 677.9,487.0 678.7,486.3 679.5,479.4 680.3,463.5 681.1,489.7 681.9,494.8 682.7,481.4 683.5,469.8 684.3,482.3 685.1,485.1 685.9,476.1 686.7,477.5 687.5,492.4 688.3,465.7 689.1,471.6 689.9,457.2 690.7,469.9 691.5,469.4 692.3,467.0 693.1,469.8 693.9,496.5 694.7,475.0 695.5,475.8 696.3,498.7 697.1,476.3 697.9,458.0 698.7,481.2 699.5,466.1 700.3,493.9 701.1,460.1 701.9,466.7 702.7,453.3 703.5,472.6 704.3,457.8 705.1,468.6 705.9,463.6 706.7,459.4 707.5,479.0 708.3,478.2 709.1,465.3 709.9,450.8 710.7,447.5 711.5,467.4 712.3,493.1 713.1,458.2 713.9,454.1 714.7,456.0 715.5,450.7 716.3,453.1 717.1,465.3 717.9,490.8 718.7,469.8 719.5,462.6 720.3,446.2 721.1,475.2 721.9,472.2 722.7,454.0 723.5,456.8 724.3,474.0 725.1,491.6 725.9,485.5 726.7,477.5 727.5,468.2 728.3,476.9 729.1,470.7 729.9,498.8 730.7,452.5 731.5,462.4 732.3,483.6 733.1,461.7 733.9,482.6 734.7,462.4 735.5,463.6 736.3,456.2 737.1,443.4 737.9,448.1 738.7,484.2 739.5,467.8 740.3,467.4 741.1,471.8 741.9,467.1 742.7,473.0 743.5,456.4 744.3,456.9 745.1,472.9 745.9,455.1 746.7,441.8 747.5,456.7 748.3,452.1 749.1,466.3 749.9,445.4 750.7,438.4 751.5,446.9 752.3,473.1 753.1,447.2 753.9,448.5 754.7,444.2 755.5,446.8 756.3,455.1 757.1,461.1 757.9,408.9 758.7,457.3 759.5,432.3 760.3,424.8 761.1,463.6 761.9,423.5 762.7,459.9 763.5,442.9 764.3,410.1 765.1,436.0 765.9,440.5 766.7,428.4 767.5,403.0 768.3,427.6 769.1,430.7 769.9,420.6 770.7,456.4 771.5,433.5 772.3,433.1 773.1,435.3 773.9,432.1 774.7,433.2 775.5,439.3 776.3,439.9 777.1,431.2 777.9,433.6 778.7,419.9 779.5,436.8 780.3,423.0 781.1,431.2 781.9,418.4 782.7,421.0 783.5,427.3 784.3,410.7 785.1,444.1 785.9,420.5 786.7,418.8 787.5,409.9 788.3,435.4 789.1,431.8 789.9,418.3 790.7,399.5 791.5,410.1 792.3,423.1 793.1,411.3 793.9,404.8 794.7,405.5 795.5,410.5 796.3,418.9 797.1,413.1 797.9,420.0 798.7,438.4 799.5,436.4 800.3,412.4 801.1,424.6 801.9,423.0 802.7,421.7 803.5,431.2 804.3,421.4 805.1,421.6 805.9,421.0 806.7,422.8 807.5,433.0 808.3,429.1 809.1,412.6 809.9,419.3 810.7,416.2 811.5,428.9 812.3,424.0 813.1,429.3 813.9,421.2 814.7,405.5 815.5,425.2 816.3,423.1 817.1,425.4 817.9,409.2 818.7,421.3 819.5,414.1 820.3,414.0 821.1,423.6 821.9,423.7 822.7,411.5 823.5,403.2 824.3,399.9 825.1,414.3 825.9,432.2 826.7,419.7 827.5,398.3 828.3,410.6 829.1,425.1 829.9,439.7 830.7,434.0 831.5,424.7 832.3,422.7 833.1,407.1 833.9,414.6 834.7,416.0 835.5,410.5 836.3,421.9 837.1,416.0 837.9,426.8 838.7,443.6 839.5,434.1 840.3,429.8 841.1,419.9 841.9,399.3 842.7,422.7 843.5,434.4 844.3,407.8 845.1,448.5 845.9,420.3 846.7,433.8 847.5,421.0 848.3,403.2 849.1,468.1 849.9,405.0 850.7,448.1 851.5,417.8 852.3,434.9 853.1,411.4 853.9,418.6 854.7,444.2 855.5,462.7 856.3,407.9 857.1,423.2 857.9,439.2 858.7,409.8 859.5,432.3 860.3,406.5 861.1,431.3 861.9,429.8 862.7,443.8 863.5,431.2 864.3,407.4 865.1,438.5 865.9,411.9 866.7,442.3 867.5,455.3 868.3,442.4 869.1,426.4 869.9,453.8 870.7,439.9 871.5,420.6 872.3,435.0 873.1,461.6 873.9,438.5 874.7,445.8 875.5,439.4 876.3,419.7 877.1,434.5 877.9,445.1 878.7,441.8 879.5,435.4 880.3,409.4 881.1,451.7 881.9,443.6 882.7,446.4 883.5,448.8 884.3,424.2 885.1,420.8 885.9,431.8 886.7,450.2 887.5,407.9 888.3,429.8 889.1,425.7 889.9,445.4 890.7,460.1 891.5,438.8 892.3,428.4 893.1,448.4 893.9,446.3 894.7,431.5 895.5,467.4 896.3,448.7 897.1,465.0 897.9,437.7 898.7,469.9 899.5,435.9 900.3,468.6 901.1,431.0 901.9,472.1 902.7,449.3 903.5,434.1 904.3,450.7 905.1,457.6 905.9,441.0 906.7,446.9 907.5,456.0 908.3,450.5 909.1,428.6 909.9,448.1 910.7,459.2 911.5,458.4 912.3,467.9 913.1,448.0 913.9,481.8 914.7,467.9 915.5,462.7 916.3,473.2 917.1,472.4 917.9,462.5 918.7,454.1 919.5,475.9 920.3,469.0 921.1,439.5 921.9,450.2 922.7,471.9 923.5,467.7 924.3,470.7 925.1,476.6 925.9,470.2 926.7,492.1 927.5,460.5 928.3,463.9 929.1,475.7 929.9,483.0 930.7,484.3 931.5,495.4 932.3,467.2 933.1,491.7 933.9,482.5 934.7,462.8 935.5,476.1 936.3,504.6 937.1,489.6 937.9,475.0 938.7,457.9 939.5,474.1 940.3,475.6 941.1,485.2 941.9,506.4 942.7,493.6 943.5,489.7 944.3,477.8 945.1,476.3 945.9,486.5 946.7,484.9 947.5,508.0 948.3,487.0 949.1,486.0 949.9,501.4 950.7,493.3 951.5,483.5 952.3,503.9 953.1,492.4 953.9,485.7 954.7,497.7 955.5,498.7 956.3,491.8 957.1,500.1 957.9,501.0 958.7,485.2 959.5,473.8 960.3,472.7 961.1,490.8 961.9,504.8 962.7,502.4 963.5,506.8 964.3,513.7 965.1,493.7 965.9,507.6 966.7,477.7 967.5,506.3 968.3,504.1 969.1,499.4 969.9,496.2 970.7,488.6 971.5,506.0 972.3,520.9 973.1,499.6 973.9,511.2 974.7,496.3 975.5,507.8 976.3,492.5 977.1,509.5 977.9,502.5 978.7,508.8 979.5,498.3 980.3,492.1 981.1,501.8 981.9,517.0 982.7,522.8 983.5,502.4 984.3,514.3 985.1,513.9 985.9,509.9 986.7,488.8 987.5,509.0 988.3,494.6 989.1,518.3 989.9,513.9 990.7,511.9 991.5,481.8 992.3,511.8 993.1,512.7 993.9,489.3 994.7,515.8 995.5,505.0 996.3,501.7 997.1,495.1 997.9,491.1 998.7,498.1 999.5,528.6 1000.3,505.9 1001.1,505.8 1001.9,495.2 1002.7,496.1 1003.5,497.4 1004.3,493.8 1005.1,515.6 1005.9,502.2 1006.7,516.1 1007.5,492.9 1008.3,517.3 1009.1,506.8 1009.9,514.9 1010.7,506.7 1011.5,498.6 1012.3,521.6 1013.1,504.5 1013.9,507.9 1014.7,500.8 1015.5,512.3 1016.3,506.8 1017.1,513.8 1017.9,514.8 1018.7,505.0 1019.5,497.9 1020.3,516.0 1021.1,521.0 1021.9,519.0 1022.7,500.1 1023.5,518.3 1024.3,516.1 1025.1,515.2 1025.9,516.8 1026.7,508.6 1027.5,514.7 1028.3,522.8 1029.1,506.6 1029.9,495.7 1030.7,511.3 1031.5,514.9 1032.3,490.3 1033.1,504.5 1033.9,520.6 1034.7,511.3 1035.5,514.7 1036.3,496.7 1037.1,526.2 1037.9,538.5 1038.7,511.3 1039.5,503.7 1040.3,497.4 1041.1,528.0 1041.9,516.4 1042.7,502.6 1043.5,534.3 1044.3,527.6 1045.1,525.4 1045.9,489.4 1046.7,515.8 1047.5,527.3 1048.3,501.2 1049.1,532.6 1049.9,539.8 1050.7,534.8 1051.5,512.5 1052.3,513.7 1053.1,534.8 1053.9,535.8 1054.7,538.8 1055.5,538.8 1056.3,525.2 1057.1,522.8 1057.9,509.1 1058.7,534.7 1059.5,545.6 1060.3,521.9 1061.1,521.4 1061.9,531.0 1062.7,528.0 1063.5,512.9 1064.3,518.1 1065.1,514.7 1065.9,538.3 1066.7,517.2 1067.5,528.2 1068.3,535.0 1069.1,533.9 1069.9,530.0 1070.7,530.5 1071.5,511.9 1072.3,517.1 1073.1,514.1 1073.9,516.6 1074.7,532.6 1075.5,505.4 1076.3,521.6 1077.1,507.4 1077.9,527.3 1078.7,526.8 1079.5,511.5 1080.3,532.6 1081.1,515.7 1081.9,526.3 1082.7,517.7 1083.5,510.4 1084.3,512.7 1085.1,515.8 1085.9,523.3 1086.7,519.5 1087.5,537.8 1088.3,517.8 1089.1,515.9 1089.9,514.1 1090.7,514.2 1091.5,508.4 1092.3,513.4 1093.1,532.7 1093.9,525.0 1094.7,523.4 1095.5,529.2 1096.3,536.2 1097.1,531.5 1097.9,532.9 1098.7,519.1 1099.5,521.9 1100.3,516.3 1101.1,523.1 1101.9,515.3 1102.7,519.7 1103.5,521.6 1104.3,520.9 1105.1,520.1 1105.9,517.5 1106.7,536.7 1107.5,518.6 1108.3,511.0 1109.1,524.1 1109.9,510.0 1110.7,510.1 1111.5,523.1 1112.3,503.3 1113.1,499.4 1113.9,525.7 1114.7,534.4 1115.5,502.9 1116.3,512.0 1117.1,529.4 1117.9,498.9 1118.7,512.2 1119.5,508.2 1120.3,520.4 1121.1,498.6 1121.9,534.1 1122.7,522.1 1123.5,528.3 1124.3,521.6 1125.1,502.9 1125.9,525.3 1126.7,512.6 1127.5,528.8 1128.3,520.0 1129.1,526.8 1129.9,528.8 1130.7,540.0 1131.5,540.2 1132.3,521.3 1133.1,531.2 1133.9,546.0 1134.7,535.6 1135.5,522.7 1136.3,528.5 1137.1,525.9 1137.9,538.4 1138.7,528.9 1139.5,531.9 1140.3,547.6 1141.1,513.8 1141.9,517.0 1142.7,509.7 1143.5,510.7 1144.3,534.0 1145.1,528.2 1145.9,540.5 1146.7,506.5 1147.5,517.7 1148.3,540.1 1149.1,536.8 1149.9,536.2 1150.7,536.7 1151.5,529.9 1152.3,530.2 1153.1,531.3 1153.9,539.0 1154.7,531.2 1155.5,536.0 1156.3,546.0 1157.1,525.5 1157.9,528.8 1158.7,538.9 1159.5,531.7 1160.3,532.0 1161.1,548.7 1161.9,535.5 1162.7,528.3 1163.5,539.8 1164.3,546.3 1165.1,521.2 1165.9,524.1 1166.7,529.8 1167.5,523.3 1168.3,543.3 1169.1,531.3 1169.9,523.6 1170.7,529.9 1171.5,519.4 1172.3,520.4 1173.1,525.8 1173.9,540.6 1174.7,510.5 1175.5,529.2 1176.3,536.6 1177.1,532.3 1177.9,541.5 1178.7,530.8 1179.5,528.9 1180.3,527.2 1181.1,522.2 1181.9,540.9 1182.7,520.5 1183.5,528.7 1184.3,526.1 1185.1,524.6 1185.9,516.1 1186.7,528.2 1187.5,532.3 1188.3,532.3 1189.1,537.3 1189.9,529.9 1190.7,526.4 1191.5,533.1 1192.3,535.6 1193.1,524.2 1193.9,519.7 1194.7,523.2 1195.5,538.0 1196.3,537.5 1197.1,523.8 1197.9,530.9 1198.7,536.0 1199.5,539.4 1200.3,525.1 1201.1,528.0 1201.9,539.7 1202.7,543.9 1203.5,540.3 1204.3,521.2 1205.1,532.4 1205.9,527.0 1206.7,528.6 1207.5,524.3 1208.3,525.5 1209.1,528.6 1209.9,540.7 1210.7,533.2 1211.5,531.2 1212.3,528.5 1213.1,523.3 1213.9,526.6 1214.7,536.0 1215.5,533.2 1216.3,540.2 1217.1,529.3 1217.9,527.5 1218.7,517.5 1219.5,530.1 1220.3,516.9 1221.1,537.1 1221.9,523.7 1222.7,527.6 1223.5,519.2 1224.3,524.5 1225.1,521.8 1225.9,534.7 1226.7,529.2 1227.5,520.3 1228.3,515.6 1229.1,527.2 1229.9,524.6 1230.7,520.7 1231.5,531.3 1232.3,526.5 1233.1,528.3 1233.9,523.9 1234.7,524.1 1235.5,524.7 1236.3,517.6 1237.1,532.0 1237.9,531.2 1238.7,517.5 1239.5,530.5 1240.3,538.6 1241.1,532.7 1241.9,541.3 1242.7,530.1 1243.5,532.8 1244.3,522.8 1245.1,526.4 1245.9,519.0 1246.7,527.3 1247.5,537.9 1248.3,541.1 1249.1,547.8 1249.9,538.8 1250.7,528.5 1251.5,543.0 1252.3,537.2 1253.1,556.1 1253.9,557.4 1254.7,547.0 1255.5,525.7 1256.3,531.4 1257.1,538.1 1257.9,528.7 1258.7,540.7 1259.5,541.9 1260.3,543.0 1261.1,536.5 1261.9,525.0 1262.7,525.0 1263.5,531.8 1264.3,545.9 1265.1,548.0 1265.9,541.6 1266.7,535.1 1267.5,538.1 1268.3,539.6 1269.1,544.0 1269.9,539.8 1270.7,517.6 1271.5,540.7 1272.3,535.5 1273.1,528.1 1273.9,536.8 1274.7,534.8 1275.5,532.0 1276.3,518.7 1277.1,533.6 1277.9,537.2 1278.7,532.5 1279.5,520.9 1280.3,536.5 1281.1,538.4 1281.9,534.6 1282.7,536.6 1283.5,531.0 1284.3,528.9 1285.1,538.2 1285.9,531.5 1286.7,536.0 1287.5,551.2 1288.3,540.9 1289.1,536.2 1289.9,521.2 1290.7,536.3 1291.5,542.5 1292.3,529.4 1293.1,533.9 1293.9,517.4 1294.7,541.8 1295.5,530.9 1296.3,543.6 1297.1,550.7 1297.9,535.8 1298.7,547.4 1299.5,540.4 1300.3,536.2 1301.1,535.8 1301.9,530.6 1302.7,551.3 1303.5,547.7 1304.3,530.1 1305.1,547.8 1305.9,533.4 1306.7,526.5 1307.5,551.8 1308.3,529.3 1309.1,552.1 1309.9,543.4 1310.7,549.9 1311.5,546.7 1312.3,552.6 1313.1,545.8 1313.9,548.0 1314.7,545.4 1315.5,553.0 1316.3,540.1 1317.1,551.8 1317.9,555.8 1318.7,542.0 1319.5,546.0 1320.3,537.5 1321.1,539.1 1321.9,543.6 1322.7,538.1 1323.5,533.1 1324.3,540.2 1325.1,541.8 1325.9,542.6 1326.7,545.6 1327.5,524.0 1328.3,551.0 1329.1,537.1 1329.9,531.7 1330.7,534.8 1331.5,542.4 1332.3,546.8 1333.1,536.7 1333.9,542.0 1334.7,527.2 1335.5,543.5 1336.3,541.7 1337.1,539.5 1337.9,552.1 1338.7,561.1 1339.5,554.9 1340.3,538.9 1341.1,561.0 1341.9,544.4 1342.7,547.8 1343.5,543.3 1344.3,553.4 1345.1,553.7 1345.9,549.2 1346.7,545.1 1347.5,545.1 1348.3,542.0 1349.1,554.7 1349.9,539.6 1350.7,542.6 1351.5,541.3 1352.3,535.4 1353.1,539.9 1353.9,527.0 1354.7,544.9 1355.5,545.6 1356.3,536.6 1357.1,554.5 1357.9,530.8 1358.7,544.7 1359.5,544.0 1360.3,533.8 1361.1,536.9 1361.9,548.6 1362.7,540.2 1363.5,542.5 1364.3,554.2 1365.1,542.1 1365.9,522.4 1366.7,532.3 1367.5,548.9 1368.3,538.8 1369.1,528.8 1369.9,519.3 1370.7,543.9 1371.5,556.6 1372.3,527.1 1373.1,518.9 1373.9,546.2 1374.7,535.1 1375.5,538.1 1376.3,538.0 1377.1,532.2 1377.9,546.4 1378.7,551.5 1379.5,546.0 1380.3,537.0 1381.1,553.1 1381.9,541.9 1382.7,548.9 1383.5,534.6 1384.3,549.9 1385.1,550.9 1385.9,556.0 1386.7,544.7 1387.5,548.8 1388.3,540.6 1389.1,555.2 1389.9,555.3 1390.7,559.4 1391.5,546.4 1392.3,539.3 1393.1,551.6 1393.9,551.3 1394.7,546.8 1395.5,561.7 1396.3,566.5 1397.1,561.8 1397.9,570.6 1398.7,563.9 1399.5,548.7 1400.3,552.3 1401.1,554.2 1401.9,563.9 1402.7,565.5 1403.5,557.3 1404.3,564.7 1405.1,547.4 1405.9,553.2 1406.7,566.3 1407.5,556.6 1408.3,560.8 1409.1,537.1 1409.9,538.6 1410.7,544.4 1411.5,557.8 1412.3,561.8 1413.1,545.3 1413.9,542.4 1414.7,542.0 1415.5,542.5 1416.3,551.9 1417.1,545.8 1417.9,559.5 1418.7,551.6 1419.5,542.4 1420.3,547.8 1421.1,544.9 1421.9,550.6 1422.7,551.0 1423.5,542.4 1424.3,550.3 1425.1,547.8 1425.9,542.9 1426.7,544.9 1427.5,547.5 1428.3,540.9 1429.1,538.8 1429.9,553.3 1430.7,544.7 1431.5,540.8 1432.3,549.1 1433.1,535.3 1433.9,547.1 1434.7,537.0 1435.5,544.5 1436.3,534.6 1437.1,543.2 1437.9,556.1 1438.7,548.3 1439.5,540.7 1440.3,564.3 1441.1,546.2 1441.9,563.5 1442.7,547.9 1443.5,540.0 1444.3,566.5 1445.1,547.8 1445.9,557.3 1446.7,560.7 1447.5,539.5 1448.3,550.8 1449.1,545.1 1449.9,554.9 1450.7,549.3 1451.5,538.2 1452.3,549.4 1453.1,555.4 1453.9,545.8 1454.7,553.7 1455.5,544.0 1456.3,548.7 1457.1,552.7 1457.9,551.0 1458.7,562.1 1459.5,559.4 1460.3,558.7 1461.1,557.8 1461.9,552.5 1462.7,539.3 1463.5,562.4 1464.3,569.9 1465.1,554.3 1465.9,549.4 1466.7,552.0 1467.5,565.9 1468.3,556.1 1469.1,542.0 1469.9,550.3 1470.7,542.9 1471.5,548.6 1472.3,540.0 1473.1,539.5 1473.9,565.6 1474.7,560.0 1475.5,528.7 1476.3,535.2 1477.1,540.6 1477.9,540.6 1478.7,529.2 1479.5,556.3 1480.3,529.8 1481.1,556.2 1481.9,557.2 1482.7,547.4 1483.5,545.8 1484.3,554.1 1485.1,556.1 1485.9,537.1 1486.7,546.0 1487.5,562.9 1488.3,558.6 1489.1,557.3 1489.9,553.5 1490.7,555.2 1491.5,554.1 1492.3,576.0 1493.1,548.9 1493.9,570.8 1494.7,561.7 1495.5,559.0 1496.3,558.2 1497.1,552.9 1497.9,568.7 1498.7,559.0 1499.5,554.0 1500.3,552.6 1501.1,554.9 1501.9,544.7 1502.7,552.2 1503.5,550.6 1504.3,560.8 1505.1,561.2 1505.9,544.6 1506.7,556.8 1507.5,565.5 1508.3,551.6 1509.1,553.3 1509.9,567.1 1510.7,561.3 1511.5,560.3 1512.3,557.1 1513.1,563.7 1513.9,559.2 1514.7,562.8 1515.5,563.4 1516.3,564.4 1517.1,558.0 1517.9,556.2 1518.7,558.8 1519.5,557.4 1520.3,558.5 1521.1,553.5 1521.9,554.7 1522.7,551.9 1523.5,551.2 1524.3,556.0 1525.1,562.6 1525.9,551.2 1526.7,558.8 1527.5,557.1 1528.3,555.4 1529.1,559.4 1529.9,550.5 1530.7,558.6 1531.5,556.6 1532.3,539.0 1533.1,557.0 1533.9,558.8 1534.7,569.3 1535.5,545.9 1536.3,554.8 1537.1,557.1 1537.9,547.2 1538.7,564.8 1539.5,559.5 1540.3,550.2 1541.1,547.7 1541.9,554.3 1542.7,573.9 1543.5,574.4 1544.3,543.4 1545.1,545.8 1545.9,565.4 1546.7,560.1 1547.5,556.6 1548.3,566.6 1549.1,563.3 1549.9,565.2 1550.7,565.6 1551.5,556.0 1552.3,574.9 1553.1,562.7 1553.9,575.6 1554.7,573.4 1555.5,569.6 1556.3,571.4 1557.1,571.1 1557.9,557.9 1558.7,568.7 1559.5,573.7 1560.3,558.3 1561.1,558.8 1561.9,576.7 1562.7,574.2 1563.5,557.1 1564.3,570.6 1565.1,566.5 1565.9,573.0 1566.7,563.6 1567.5,563.8 1568.3,559.7 1569.1,565.6 1569.9,563.5 1570.7,560.0 1571.5,562.0 1572.3,559.2 1573.1,568.8 1573.9,557.1 1574.7,553.2 1575.5,557.4 1576.3,572.3 1577.1,560.6 1577.9,569.2 1578.7,570.0 1579.5,560.8 1580.3,570.3 1581.1,568.6 1581.9,564.7 1582.7,560.1 1583.5,564.8 1584.3,556.4 1585.1,563.6 1585.9,561.7 1586.7,568.8 1587.5,568.2 1588.3,561.8 1589.1,571.9 1589.9,574.2 1590.7,566.8 1591.5,561.4 1592.3,570.0 1593.1,552.2 1593.9,562.5 1594.7,570.9 1595.5,581.5 1596.3,561.3 1597.1,578.4 1597.9,582.4 1598.7,581.6 1599.5,551.1 1600.3,575.9 1601.1,568.8 1601.9,575.4 1602.7,566.4 1603.5,563.4 1604.3,566.5 1605.1,579.1 1605.9,574.5 1606.7,566.9 1607.5,571.6 1608.3,574.9 1609.1,573.1 1609.9,569.5 1610.7,566.1 1611.5,566.0 1612.3,568.0 1613.1,567.7 1613.9,562.6 1614.7,563.2 1615.5,575.1 1616.3,564.0 1617.1,562.5 1617.9,569.3 1618.7,577.6 1619.5,576.3 1620.3,566.3 1621.1,562.2 1621.9,564.9 1622.7,562.2 1623.5,564.1 1624.3,570.3 1625.1,560.1 1625.9,561.6 1626.7,564.7 1627.5,566.1 1628.3,561.4 1629.1,561.5 1629.9,559.5 1630.7,562.2 1631.5,570.8 1632.3,565.9 1633.1,554.6 1633.9,571.9 1634.7,567.7 1635.5,562.7 1636.3,566.9 1637.1,555.8 1637.9,558.3 1638.7,576.6 1639.5,582.1 1640.3,582.3 1641.1,565.1 1641.9,570.2 1642.7,575.0 1643.5,562.6 1644.3,581.4 1645.1,566.2 1645.9,573.1 1646.7,564.0 1647.5,573.5 1648.3,571.3 1649.1,578.1 1649.9,564.6 1650.7,571.8 1651.5,583.0 1652.3,564.9 1653.1,574.4 1653.9,575.0 1654.7,569.6 1655.5,571.1 1656.3,581.2 1657.1,579.7 1657.9,576.5 1658.7,574.9 1659.5,566.9 1660.3,574.1 1661.1,584.1 1661.9,579.8 1662.7,565.8 1663.5,561.9 1664.3,569.7 1665.1,574.5 1665.9,570.2 1666.7,571.6 1667.5,575.4 1668.3,578.7 1669.1,574.5 1669.9,580.8 1670.7,564.5 1671.5,576.0 1672.3,575.7 1673.1,563.9 1673.9,580.7 1674.7,563.0 1675.5,563.9 1676.3,585.4 1677.1,581.5 1677.9,576.1 1678.7,582.9 1679.5,582.1 1680.3,567.4 1681.1,578.6 1681.9,585.3 1682.7,575.0 1683.5,577.0 1684.3,573.6 1685.1,582.6 1685.9,573.7 1686.7,573.8 1687.5,569.3 1688.3,571.9 1689.1,581.0 1689.9,583.0 1690.7,576.5 1691.5,571.6 1692.3,581.9 1693.1,582.0 1693.9,588.5 1694.7,575.9 1695.5,576.5 1696.3,582.9 1697.1,589.8 1697.9,579.1 1698.7,578.9 1699.5,573.3 1700.3,577.0 1701.1,585.4 1701.9,584.8 1702.7,586.3 1703.5,569.4 1704.3,584.5 1705.1,573.9 1705.9,582.9 1706.7,568.1 1707.5,578.9 1708.3,574.7 1709.1,586.4 1709.9,580.3 1710.7,586.3 1711.5,577.6 1712.3,589.3 1713.1,577.7 1713.9,588.6 1714.7,577.8 1715.5,575.7 1716.3,583.8 1717.1,578.5 1717.9,579.9 1718.7,575.0 1719.5,579.0 1720.3,580.7 1721.1,577.9 1721.9,581.8 1722.7,573.7 1723.5,583.9 1724.3,579.5 1725.1,586.3 1725.9,580.0 1726.7,579.0 1727.5,579.9 1728.3,582.7 1729.1,584.0 1729.9,580.2 1730.7,579.1 1731.5,583.9 1732.3,585.5 1733.1,575.9 1733.9,578.7 1734.7,580.3 1735.5,589.7 1736.3,588.0 1737.1,586.1 1737.9,584.6 1738.7,577.5 1739.5,586.7 1740.3,579.6 1741.1,577.6 1741.9,589.8 1742.7,573.7 1743.5,586.9 1744.3,580.9 1745.1,574.9 1745.9,580.1 1746.7,574.5 1747.5,579.5 1748.3,575.2 1749.1,572.6 1749.9,589.6 1750.7,576.8 1751.5,584.8 1752.3,579.7 1753.1,583.7 1753.9,573.9 1754.7,575.3 1755.5,570.8 1756.3,586.3 1757.1,583.7 1757.9,575.7 1758.7,586.1 1759.5,585.1 1760.3,592.2 1761.1,583.8 1761.9,587.4 1762.7,586.2 1763.5,586.8 1764.3,582.9 1765.1,581.0 1765.9,586.2 1766.7,588.6 1767.5,577.3 1768.3,577.4 1769.1,582.4 1769.9,590.6 1770.7,581.5 1771.5,574.8 1772.3,585.8 1773.1,585.4 1773.9,590.5 1774.7,582.8 1775.5,590.3 1776.3,578.8 1777.1,585.5 1777.9,582.2 1778.7,576.7 1779.5,580.4 1780.3,586.7 1781.1,585.8 1781.9,579.8 1782.7,585.8 1783.5,585.0 1784.3,585.1 1785.1,582.7 1785.9,582.8 1786.7,578.2 1787.5,581.4 1788.3,582.2 1789.1,578.7 1789.9,580.6 1790.7,582.6 1791.5,582.8 1792.3,586.5 1793.1,577.6 1793.9,580.4 1794.7,583.3 1795.5,580.5 1796.3,583.7 1797.1,580.3 1797.9,588.1 1798.7,581.8 1799.5,577.6 1800.3,587.1 1801.1,592.1 1801.9,573.8 1802.7,583.5 1803.5,584.8 1804.3,590.4 1805.1,593.5 1805.9,584.2 1806.7,576.1 1807.5,589.7 1808.3,592.2 1809.1,589.1 1809.9,586.9 1810.7,581.3 1811.5,600.2 1812.3,578.9 1813.1,576.9 1813.9,593.1 1814.7,588.4 1815.5,590.7 1816.3,588.6 1817.1,596.6 1817.9,594.8 1818.7,582.9 1819.5,591.8 1820.3,579.2 1821.1,576.3 1821.9,592.3 1822.7,583.3 1823.5,575.0 1824.3,585.3 1825.1,581.9 1825.9,587.7 1826.7,584.8 1827.5,581.6 1828.3,582.1 1829.1,589.3 1829.9,581.5 1830.7,586.7 1831.5,581.7 1832.3,588.5 1833.1,594.6 1833.9,589.4 1834.7,591.9 1835.5,589.2 1836.3,583.4 1837.1,586.4 1837.9,588.2 1838.7,589.9 1839.5,585.8 1840.3,590.9 1841.1,585.8 1841.9,589.1 1842.7,589.0 1843.5,584.6 1844.3,593.3 1845.1,589.7 1845.9,590.0 1846.7,589.6 1847.5,581.8 1848.3,584.3 1849.1,586.5 1849.9,594.5 1850.7,588.1 1851.5,593.2 1852.3,586.4 1853.1,587.4 1853.9,589.1 1854.7,595.8 1855.5,584.2 1856.3,590.8 1857.1,593.3 1857.9,591.4 1858.7,590.0 1859.5,592.9 1860.3,589.9 1861.1,583.3 1861.9,590.1 1862.7,582.8 1863.5,584.1 1864.3,591.9 1865.1,593.8 1865.9,590.6 1866.7,585.1 1867.5,578.6 1868.3,578.1 1869.1,591.1 1869.9,583.3 1870.7,572.8 1871.5,590.3 1872.3,584.4 1873.1,589.7 1873.9,585.1 1874.7,572.6 1875.5,580.8 1876.3,585.0 1877.1,585.9 1877.9,595.0 1878.7,585.7 1879.5,589.3 1880.3,589.5"/>
<line x1="309.1" y1="106.7" x2="309.1" y2="626.8" stroke="#000" stroke-width="2.1" stroke-linecap="butt"/>
<line x1="308.1" y1="625.8" x2="1881.9" y2="625.8" stroke="#000" stroke-width="2.1" stroke-linecap="butt"/>
<line x1="309.1" y1="107.70000000000005" x2="331.1" y2="107.70000000000005" stroke="#000" stroke-width="2" stroke-linecap="butt"/>
<line x1="309.1" y1="194.04999999999995" x2="320.1" y2="194.04999999999995" stroke="#000" stroke-width="2" stroke-linecap="butt"/>
<line x1="309.1" y1="280.4" x2="331.1" y2="280.4" stroke="#000" stroke-width="2" stroke-linecap="butt"/>
<line x1="309.1" y1="366.75" x2="320.1" y2="366.75" stroke="#000" stroke-width="2" stroke-linecap="butt"/>
<line x1="309.1" y1="453.09999999999997" x2="331.1" y2="453.09999999999997" stroke="#000" stroke-width="2" stroke-linecap="butt"/>
<line x1="309.1" y1="539.4499999999999" x2="320.1" y2="539.4499999999999" stroke="#000" stroke-width="2" stroke-linecap="butt"/>
<line x1="413.82500000000005" y1="625.8" x2="413.82500000000005" y2="599.8" stroke="#000" stroke-width="2" stroke-linecap="butt"/>
<line x1="518.55" y1="625.8" x2="518.55" y2="612.8" stroke="#000" stroke-width="2" stroke-linecap="butt"/>
<line x1="623.2750000000001" y1="625.8" x2="623.2750000000001" y2="599.8" stroke="#000" stroke-width="2" stroke-linecap="butt"/>
<line x1="728.0" y1="625.8" x2="728.0" y2="612.8" stroke="#000" stroke-width="2" stroke-linecap="butt"/>
<line x1="832.725" y1="625.8" x2="832.725" y2="599.8" stroke="#000" stroke-width="2" stroke-linecap="butt"/>
<line x1="937.45" y1="625.8" x2="937.45" y2="612.8" stroke="#000" stroke-width="2" stroke-linecap="butt"/>
<line x1="1042.1750000000002" y1="625.8" x2="1042.1750000000002" y2="599.8" stroke="#000" stroke-width="2" stroke-linecap="butt"/>
<line x1="1146.9" y1="625.8" x2="1146.9" y2="612.8" stroke="#000" stroke-width="2" stroke-linecap="butt"/>
<line x1="1251.625" y1="625.8" x2="1251.625" y2="599.8" stroke="#000" stroke-width="2" stroke-linecap="butt"/>
<line x1="1356.35" y1="625.8" x2="1356.35" y2="612.8" stroke="#000" stroke-width="2" stroke-linecap="butt"/>
<line x1="1461.0749999999998" y1="625.8" x2="1461.0749999999998" y2="599.8" stroke="#000" stroke-width="2" stroke-linecap="butt"/>
<line x1="1565.8000000000002" y1="625.8" x2="1565.8000000000002" y2="612.8" stroke="#000" stroke-width="2" stroke-linecap="butt"/>
<line x1="1670.525" y1="625.8" x2="1670.525" y2="599.8" stroke="#000" stroke-width="2" stroke-linecap="butt"/>
<line x1="1775.25" y1="625.8" x2="1775.25" y2="612.8" stroke="#000" stroke-width="2" stroke-linecap="butt"/>
<line x1="1879.975" y1="625.8" x2="1879.975" y2="599.8" stroke="#000" stroke-width="2" stroke-linecap="butt"/>
<text x="413.82500000000005" y="705.3" font-size="65.5" text-anchor="middle" >10</text>
<text x="623.2750000000001" y="705.3" font-size="65.5" text-anchor="middle" >20</text>
<text x="832.725" y="705.3" font-size="65.5" text-anchor="middle" >30</text>
<text x="1042.1750000000002" y="705.3" font-size="65.5" text-anchor="middle" >40</text>
<text x="1251.625" y="705.3" font-size="65.5" text-anchor="middle" >50</text>
<text x="1461.0749999999998" y="705.3" font-size="65.5" text-anchor="middle" >60</text>
<text x="1670.525" y="705.3" font-size="65.5" text-anchor="middle" >70</text>
<text x="1879.975" y="705.3" font-size="65.5" text-anchor="middle" >80</text>
<line x1="570" y1="52.9" x2="779" y2="52.9" stroke="#f00" stroke-width="6.3" stroke-linecap="round"/>
<text x="802.5" y="79.7" font-size="81.5" text-anchor="start" >iron (III) pyrophosphate</text>
<line x1="1239.5" y1="154.8" x2="1437" y2="154.8" stroke="#00f" stroke-width="6.3" stroke-linecap="round"/>
<text x="1458" y="181.7" font-size="77.7" text-anchor="start" id="sideral">SiderAl Folic</text>
<line x1="1458" y1="193" x2="1894" y2="193" stroke="#000" stroke-width="5.7" stroke-linecap="butt"/>
</g>
<text transform="translate(228.2,910) rotate(-90)" font-size="81.5" id="ylabAB">intensity (a.u.)</text>
<g id="chartB">
<clipPath id="clipB"><rect x="300" y="775.5" width="1600" height="530"/></clipPath>
<g clip-path="url(#clipB)"><polyline fill="none" stroke="#f00" stroke-width="6.5" stroke-linejoin="round" stroke-linecap="butt" points="311.5,1152.8 313.2,1149.9 315.0,1155.0 316.7,1152.0 318.5,1150.5 320.2,1151.3 322.0,1147.4 323.7,1146.5 325.5,1151.7 327.2,1147.8 329.0,1153.3 330.7,1149.0 332.4,1144.7 334.2,1144.7 335.9,1146.7 337.7,1145.3 339.4,1151.6 341.2,1151.0 342.9,1158.7 344.7,1148.5 346.4,1152.6 348.1,1157.9 349.9,1159.2 351.6,1147.7 353.4,1162.8 355.1,1150.5 356.9,1163.3 358.6,1153.5 360.4,1153.2 362.1,1148.8 363.9,1156.1 365.6,1164.4 367.3,1154.3 369.1,1164.7 370.8,1164.8 372.6,1157.9 374.3,1164.8 376.1,1166.0 377.8,1160.7 379.6,1160.4 381.3,1171.7 383.0,1168.2 384.8,1176.2 386.5,1171.8 388.3,1160.1 390.0,1170.0 391.8,1163.9 393.5,1177.0 395.3,1177.4 397.0,1173.3 398.8,1172.1 400.5,1180.5 402.2,1174.2 404.0,1184.3 405.7,1170.0 407.5,1175.1 409.2,1172.9 411.0,1170.0 412.7,1190.1 414.5,1191.2 416.2,1177.7 417.9,1190.4 419.7,1176.0 421.4,1195.4 423.2,1195.0 424.9,1185.0 426.7,1185.6 428.4,1190.3 430.2,1192.2 431.9,1187.6 433.7,1185.1 435.4,1189.6 437.1,1189.2 438.9,1198.0 440.6,1194.1 442.4,1195.8 444.1,1186.4 445.9,1192.8 447.6,1193.4 449.4,1193.1 451.1,1196.8 452.8,1195.4 454.6,1189.3 456.3,1203.5 458.1,1202.9 459.8,1194.7 461.6,1200.3 463.3,1192.9 465.1,1191.2 466.8,1196.6 468.6,1205.0 470.3,1197.4 472.0,1190.1 473.8,1200.2 475.5,1195.5 477.3,1195.5 479.0,1202.4 480.8,1194.9 482.5,1196.0 484.3,1197.2 486.0,1207.1 487.7,1203.2 489.5,1200.5 491.2,1200.4 493.0,1206.0 494.7,1208.1 496.5,1200.9 498.2,1204.9 500.0,1208.5 501.7,1206.4 503.5,1202.9 505.2,1205.4 506.9,1204.6 508.7,1206.7 510.4,1205.6 512.2,1202.6 513.9,1204.0 515.7,1205.9 517.4,1202.0 519.2,1205.0 520.9,1201.1 522.6,1209.9 524.4,1210.2 526.1,1201.2 527.9,1209.4 529.6,1206.3 531.4,1205.7 533.1,1203.6 534.9,1206.2 536.6,1210.0 538.4,1197.2 540.1,1209.9 541.8,1202.1 543.6,1196.7 545.3,1203.0 547.1,1207.3 548.8,1203.1 550.6,1205.4 552.3,1202.2 554.1,1201.4 555.8,1209.1 557.5,1200.1 559.3,1209.0 561.0,1205.9 562.8,1202.9 564.5,1202.8 566.3,1202.2 568.0,1202.9 569.8,1202.5 571.5,1201.8 573.3,1196.6 575.0,1196.3 576.7,1202.9 578.5,1198.4 580.2,1198.4 582.0,1199.9 583.7,1195.4 585.5,1205.3 587.2,1199.8 589.0,1198.8 590.7,1194.6 592.4,1203.5 594.2,1202.8 595.9,1204.7 597.7,1203.6 599.4,1195.7 601.2,1193.6 602.9,1204.7 604.7,1196.3 606.4,1198.6 608.2,1198.0 609.9,1200.5 611.6,1200.3 613.4,1193.0 615.1,1195.3 616.9,1192.8 618.6,1201.9 620.4,1198.9 622.1,1194.1 623.9,1205.7 625.6,1201.2 627.3,1196.7 629.1,1199.2 630.8,1197.6 632.6,1200.7 634.3,1200.7 636.1,1195.5 637.8,1201.1 639.6,1189.6 641.3,1194.9 643.1,1201.3 644.8,1203.5 646.5,1202.7 648.3,1192.9 650.0,1192.8 651.8,1198.1 653.5,1204.7 655.3,1201.0 657.0,1195.7 658.8,1191.9 660.5,1198.8 662.2,1194.4 664.0,1200.7 665.7,1199.2 667.5,1191.7 669.2,1198.3 671.0,1203.0 672.7,1197.2 674.5,1195.5 676.2,1196.4 678.0,1196.2 679.7,1205.5 681.4,1205.9 683.2,1198.7 684.9,1206.8 686.7,1196.7 688.4,1199.2 690.2,1198.2 691.9,1201.3 693.7,1205.6 695.4,1208.0 697.1,1205.8 698.9,1202.0 700.6,1203.2 702.4,1201.7 704.1,1204.0 705.9,1199.7 707.6,1203.5 709.4,1204.1 711.1,1205.8 712.9,1199.1 714.6,1203.7 716.3,1203.0 718.1,1198.4 719.8,1196.3 721.6,1199.9 723.3,1206.7 725.1,1202.4 726.8,1209.5 728.6,1207.5 730.3,1202.5 732.0,1206.0 733.8,1209.0 735.5,1209.2 737.3,1205.6 739.0,1209.2 740.8,1213.3 742.5,1212.0 744.3,1207.6 746.0,1203.6 747.8,1199.1 749.5,1207.9 751.2,1205.0 753.0,1207.1 754.7,1205.0 756.5,1210.8 758.2,1211.9 760.0,1204.4 761.7,1201.2 763.5,1208.6 765.2,1213.4 766.9,1209.0 768.7,1209.3 770.4,1197.7 772.2,1203.6 773.9,1211.4 775.7,1210.9 777.4,1209.7 779.2,1213.4 780.9,1215.3 782.7,1212.5 784.4,1209.4 786.1,1207.3 787.9,1213.3 789.6,1211.9 791.4,1212.0 793.1,1216.8 794.9,1210.6 796.6,1212.1 798.4,1215.5 800.1,1210.1 801.8,1208.7 803.6,1211.5 805.3,1217.2 807.1,1211.5 808.8,1213.1 810.6,1208.7 812.3,1219.4 814.1,1208.1 815.8,1210.5 817.6,1212.5 819.3,1218.4 821.0,1213.2 822.8,1209.2 824.5,1206.5 826.3,1210.5 828.0,1206.2 829.8,1209.1 831.5,1212.3 833.3,1217.7 835.0,1207.2 836.7,1218.1 838.5,1206.6 840.2,1218.4 842.0,1209.7 843.7,1211.0 845.5,1210.5 847.2,1213.6 849.0,1212.2 850.7,1211.0 852.5,1209.5 854.2,1210.1 855.9,1212.2 857.7,1210.0 859.4,1208.6 861.2,1206.3 862.9,1211.8 864.7,1214.1 866.4,1208.3 868.2,1216.8 869.9,1213.0 871.6,1213.9 873.4,1208.7 875.1,1216.7 876.9,1219.4 878.6,1219.7 880.4,1212.1 882.1,1213.8 883.9,1216.6 885.6,1215.3 887.4,1210.1 889.1,1212.5 890.8,1215.7 892.6,1213.6 894.3,1210.7 896.1,1214.6 897.8,1204.9 899.6,1211.3 901.3,1206.6 903.1,1207.3 904.8,1211.4 906.5,1212.4 908.3,1210.0 910.0,1209.4 911.8,1214.9 913.5,1213.8 915.3,1204.4 917.0,1208.2 918.8,1208.2 920.5,1207.7 922.3,1204.1 924.0,1213.6 925.7,1210.6 927.5,1215.2 929.2,1207.4 931.0,1208.8 932.7,1204.2 934.5,1211.7 936.2,1212.2 938.0,1212.1 939.7,1211.2 941.4,1204.0 943.2,1211.8 944.9,1202.4 946.7,1203.6 948.4,1205.4 950.2,1211.5 951.9,1203.0 953.7,1201.6 955.4,1207.0 957.2,1211.1 958.9,1208.8 960.6,1209.7 962.4,1204.5 964.1,1206.9 965.9,1213.3 967.6,1207.6 969.4,1203.3 971.1,1203.9 972.9,1210.6 974.6,1210.0 976.3,1205.4 978.1,1198.3 979.8,1208.7 981.6,1199.8 983.3,1204.0 985.1,1206.0 986.8,1204.3 988.6,1203.9 990.3,1210.8 992.1,1207.1 993.8,1199.6 995.5,1203.7 997.3,1213.6 999.0,1206.9 1000.8,1202.6 1002.5,1214.2 1004.3,1210.0 1006.0,1205.9 1007.8,1206.8 1009.5,1200.7 1011.2,1202.3 1013.0,1204.3 1014.7,1200.4 1016.5,1207.0 1018.2,1200.2 1020.0,1207.2 1021.7,1204.6 1023.5,1204.8 1025.2,1199.5 1027.0,1204.7 1028.7,1198.8 1030.4,1202.5 1032.2,1200.7 1033.9,1198.1 1035.7,1206.9 1037.4,1203.4 1039.2,1200.9 1040.9,1202.1 1042.7,1204.8 1044.4,1203.0 1046.1,1205.9 1047.9,1199.4 1049.6,1202.0 1051.4,1198.8 1053.1,1196.9 1054.9,1202.5 1056.6,1193.1 1058.4,1188.2 1060.1,1199.8 1061.8,1190.3 1063.6,1197.8 1065.3,1197.7 1067.1,1197.7 1068.8,1195.3 1070.6,1201.6 1072.3,1191.1 1074.1,1201.0 1075.8,1196.2 1077.6,1197.9 1079.3,1195.6 1081.0,1199.9 1082.8,1198.8 1084.5,1196.1 1086.3,1197.6 1088.0,1198.4 1089.8,1195.9 1091.5,1200.0 1093.3,1197.4 1095.0,1193.1 1096.7,1198.5 1098.5,1194.7 1100.2,1190.8 1102.0,1191.1 1103.7,1186.3 1105.5,1194.6 1107.2,1195.7 1109.0,1190.1 1110.7,1186.7 1112.5,1183.9 1114.2,1184.0 1115.9,1189.4 1117.7,1187.5 1119.4,1190.0 1121.2,1187.9 1122.9,1191.3 1124.7,1191.6 1126.4,1193.9 1128.2,1193.9 1129.9,1194.2 1131.6,1190.1 1133.4,1192.2 1135.1,1188.5 1136.9,1191.2 1138.6,1192.9 1140.4,1194.6 1142.1,1188.0 1143.9,1189.3 1145.6,1190.7 1147.4,1187.9 1149.1,1191.4 1150.8,1191.6 1152.6,1189.3 1154.3,1197.2 1156.1,1190.3 1157.8,1193.0 1159.6,1185.8 1161.3,1195.1 1163.1,1192.6 1164.8,1191.8 1166.5,1184.8 1168.3,1190.2 1170.0,1187.3 1171.8,1192.2 1173.5,1190.8 1175.3,1189.1 1177.0,1189.9 1178.8,1197.6 1180.5,1197.7 1182.3,1187.5 1184.0,1191.9 1185.7,1196.4 1187.5,1191.6 1189.2,1194.6 1191.0,1191.6 1192.7,1198.0 1194.5,1195.7 1196.2,1191.5 1198.0,1197.3 1199.7,1195.2 1201.4,1198.8 1203.2,1190.9 1204.9,1186.1 1206.7,1199.7 1208.4,1195.5 1210.2,1186.1 1211.9,1186.1 1213.7,1195.3 1215.4,1192.9 1217.2,1184.7 1218.9,1186.2 1220.6,1190.1 1222.4,1180.8 1224.1,1197.2 1225.9,1181.2 1227.6,1189.8 1229.4,1189.8 1231.1,1188.0 1232.9,1187.7 1234.6,1197.3 1236.3,1188.0 1238.1,1195.1 1239.8,1200.7 1241.6,1193.7 1243.3,1191.3 1245.1,1194.8 1246.8,1190.8 1248.6,1193.4 1250.3,1191.1 1252.1,1192.8 1253.8,1192.3 1255.5,1200.4 1257.3,1196.6 1259.0,1190.1 1260.8,1202.0 1262.5,1189.5 1264.3,1200.7 1266.0,1191.1 1267.8,1188.3 1269.5,1190.8 1271.2,1200.5 1273.0,1195.5 1274.7,1195.5 1276.5,1189.1 1278.2,1197.1 1280.0,1196.2 1281.7,1196.7 1283.5,1194.9 1285.2,1192.4 1287.0,1208.1 1288.7,1194.7 1290.4,1203.7 1292.2,1203.2 1293.9,1200.8 1295.7,1200.5 1297.4,1202.7 1299.2,1197.9 1300.9,1199.0 1302.7,1201.4 1304.4,1201.3 1306.1,1199.5 1307.9,1195.4 1309.6,1201.7 1311.4,1196.5 1313.1,1208.5 1314.9,1209.3 1316.6,1204.8 1318.4,1204.8 1320.1,1197.1 1321.9,1202.5 1323.6,1199.4 1325.3,1209.6 1327.1,1196.6 1328.8,1209.6 1330.6,1202.2 1332.3,1196.3 1334.1,1210.7 1335.8,1202.7 1337.6,1206.6 1339.3,1211.7 1341.0,1196.3 1342.8,1202.0 1344.5,1206.3 1346.3,1213.1 1348.0,1205.2 1349.8,1209.5 1351.5,1200.5 1353.3,1209.4 1355.0,1203.6 1356.8,1206.4 1358.5,1208.3 1360.2,1211.3 1362.0,1205.8 1363.7,1210.0 1365.5,1207.5 1367.2,1211.0 1369.0,1207.4 1370.7,1213.3 1372.5,1205.8 1374.2,1206.0 1375.9,1213.7 1377.7,1207.5 1379.4,1212.3 1381.2,1212.6 1382.9,1206.3 1384.7,1209.7 1386.4,1209.3 1388.2,1210.9 1389.9,1207.5 1391.7,1213.0 1393.4,1213.7 1395.1,1209.3 1396.9,1212.8 1398.6,1212.9 1400.4,1205.9 1402.1,1210.4 1403.9,1215.5 1405.6,1215.7 1407.4,1207.9 1409.1,1210.2 1410.8,1215.0 1412.6,1217.2 1414.3,1218.5 1416.1,1214.4 1417.8,1217.0 1419.6,1210.2 1421.3,1218.0 1423.1,1212.3 1424.8,1209.2 1426.6,1210.9 1428.3,1208.2 1430.0,1210.4 1431.8,1212.3 1433.5,1215.6 1435.3,1218.2 1437.0,1210.6 1438.8,1211.4 1440.5,1217.6 1442.3,1219.4 1444.0,1218.6 1445.7,1216.8 1447.5,1210.9 1449.2,1213.5 1451.0,1209.8 1452.7,1211.9 1454.5,1220.7 1456.2,1220.5 1458.0,1212.7 1459.7,1216.7 1461.5,1219.8 1463.2,1208.2 1464.9,1207.7 1466.7,1211.1 1468.4,1208.6 1470.2,1218.2 1471.9,1214.8 1473.7,1214.2 1475.4,1216.1 1477.2,1218.2 1478.9,1215.8 1480.6,1210.5 1482.4,1218.6 1484.1,1213.4 1485.9,1216.9 1487.6,1212.5 1489.4,1215.6 1491.1,1210.0 1492.9,1215.9 1494.6,1213.9 1496.4,1220.1 1498.1,1212.1 1499.8,1212.0 1501.6,1219.2 1503.3,1211.0 1505.1,1219.3 1506.8,1216.4 1508.6,1215.0 1510.3,1217.7 1512.1,1216.3 1513.8,1213.7 1515.5,1221.3 1517.3,1214.0 1519.0,1219.2 1520.8,1217.8 1522.5,1215.1 1524.3,1215.8 1526.0,1220.9 1527.8,1216.2 1529.5,1224.9 1531.3,1221.3 1533.0,1212.9 1534.7,1220.0 1536.5,1208.3 1538.2,1222.4 1540.0,1209.9 1541.7,1210.7 1543.5,1222.6 1545.2,1212.3 1547.0,1215.2 1548.7,1220.5 1550.4,1214.0 1552.2,1219.1 1553.9,1224.4 1555.7,1217.2 1557.4,1227.3 1559.2,1215.4 1560.9,1223.9 1562.7,1218.4 1564.4,1217.2 1566.2,1216.1 1567.9,1213.7 1569.6,1222.0 1571.4,1214.1 1573.1,1218.9 1574.9,1221.9 1576.6,1221.5 1578.4,1222.6 1580.1,1218.0 1581.9,1215.9 1583.6,1220.5 1585.3,1219.0 1587.1,1223.0 1588.8,1215.2 1590.6,1218.6 1592.3,1219.4 1594.1,1215.3 1595.8,1211.3 1597.6,1216.1 1599.3,1221.1 1601.1,1214.0 1602.8,1213.5 1604.5,1213.7 1606.3,1214.3 1608.0,1213.9 1609.8,1225.5 1611.5,1219.2 1613.3,1225.7 1615.0,1225.8 1616.8,1217.6 1618.5,1223.1 1620.2,1226.8 1622.0,1226.9 1623.7,1225.5 1625.5,1216.4 1627.2,1216.7 1629.0,1220.1 1630.7,1226.0 1632.5,1215.7 1634.2,1221.9 1636.0,1223.5 1637.7,1221.4 1639.4,1217.6 1641.2,1214.8 1642.9,1219.9 1644.7,1216.6 1646.4,1220.3 1648.2,1217.0 1649.9,1217.5 1651.7,1218.4 1653.4,1215.1 1655.1,1224.1 1656.9,1213.2 1658.6,1220.2 1660.4,1215.9 1662.1,1219.5 1663.9,1211.6 1665.6,1216.8 1667.4,1217.7 1669.1,1223.8 1670.9,1223.6 1672.6,1221.4 1674.3,1220.1 1676.1,1221.4 1677.8,1227.0 1679.6,1229.0 1681.3,1225.5 1683.1,1228.1 1684.8,1215.7 1686.6,1226.0 1688.3,1226.9 1690.0,1221.4 1691.8,1217.9 1693.5,1225.0 1695.3,1214.0 1697.0,1223.2 1698.8,1213.4 1700.5,1218.9 1702.3,1213.5 1704.0,1223.7 1705.8,1219.8 1707.5,1217.8 1709.2,1221.1 1711.0,1227.9 1712.7,1228.4 1714.5,1223.5 1716.2,1221.3 1718.0,1228.0 1719.7,1222.9 1721.5,1219.6 1723.2,1227.7 1724.9,1216.2 1726.7,1223.5 1728.4,1227.3 1730.2,1223.8 1731.9,1222.7 1733.7,1225.3 1735.4,1217.1 1737.2,1220.8 1738.9,1220.4 1740.7,1224.3 1742.4,1221.9 1744.1,1220.2 1745.9,1223.9 1747.6,1223.5 1749.4,1215.3 1751.1,1224.0 1752.9,1221.5 1754.6,1218.9 1756.4,1224.6 1758.1,1216.4 1759.8,1217.4 1761.6,1222.5 1763.3,1219.7 1765.1,1218.2 1766.8,1221.2 1768.6,1225.7 1770.3,1222.4 1772.1,1225.0 1773.8,1224.8 1775.6,1222.4 1777.3,1222.7 1779.0,1220.5 1780.8,1223.2 1782.5,1225.0 1784.3,1221.8 1786.0,1222.2 1787.8,1223.8 1789.5,1222.4 1791.3,1223.1 1793.0,1217.5 1794.7,1223.2 1796.5,1217.4 1798.2,1224.1 1800.0,1221.9 1801.7,1221.2 1803.5,1218.9 1805.2,1226.2 1807.0,1222.0 1808.7,1222.0 1810.5,1218.5 1812.2,1226.6 1813.9,1220.9 1815.7,1219.6 1817.4,1225.8 1819.2,1223.6 1820.9,1216.9 1822.7,1220.9 1824.4,1224.7 1826.2,1220.2 1827.9,1218.8 1829.6,1223.9 1831.4,1223.8 1833.1,1218.8 1834.9,1219.6 1836.6,1220.1 1838.4,1220.3 1840.1,1218.3 1841.9,1220.2 1843.6,1223.9 1845.4,1217.7 1847.1,1224.8 1848.8,1223.1 1850.6,1223.7 1852.3,1223.7 1854.1,1218.5 1855.8,1216.4 1857.6,1224.7 1859.3,1221.1 1861.1,1222.9 1862.8,1224.7 1864.5,1218.4 1866.3,1222.2 1868.0,1222.6 1869.8,1220.5 1871.5,1221.2 1873.3,1223.9 1875.0,1225.5 1876.8,1228.3 1878.5,1228.4 1880.3,1229.9"/>
<polyline fill="none" stroke="#00f" stroke-width="6.5" stroke-linejoin="round" stroke-linecap="butt" points="311.5,1133.5 313.2,1135.9 315.0,1128.2 316.7,1127.9 318.5,1133.6 320.2,1138.0 322.0,1134.6 323.7,1127.5 325.5,1129.9 327.2,1134.0 329.0,1139.5 330.7,1135.2 332.4,1134.0 334.2,1135.2 335.9,1138.1 337.7,1134.7 339.4,1139.0 341.2,1140.9 342.9,1145.6 344.7,1141.4 346.4,1145.5 348.1,1137.8 349.9,1145.5 351.6,1142.6 353.4,1139.4 355.1,1141.8 356.9,1146.7 358.6,1141.3 360.4,1149.3 362.1,1151.4 363.9,1152.4 365.6,1153.4 367.3,1140.1 369.1,1150.2 370.8,1144.4 372.6,1153.6 374.3,1148.3 376.1,1148.9 377.8,1150.1 379.6,1143.7 381.3,1147.4 383.0,1142.5 384.8,1153.9 386.5,1144.0 388.3,1146.7 390.0,1139.0 391.8,1139.0 393.5,1141.8 395.3,1151.3 397.0,1151.1 398.8,1148.3 400.5,1142.9 402.2,1154.4 404.0,1140.5 405.7,1141.5 407.5,1150.2 409.2,1140.5 411.0,1149.0 412.7,1153.9 414.5,1147.2 416.2,1150.8 417.9,1148.8 419.7,1145.0 421.4,1141.9 423.2,1143.1 424.9,1150.4 426.7,1144.1 428.4,1148.4 430.2,1151.9 431.9,1156.5 433.7,1143.6 435.4,1147.0 437.1,1150.2 438.9,1151.2 440.6,1142.2 442.4,1153.7 444.1,1143.8 445.9,1152.5 447.6,1146.2 449.4,1148.8 451.1,1152.4 452.8,1149.7 454.6,1146.8 456.3,1142.1 458.1,1144.7 459.8,1142.1 461.6,1156.7 463.3,1143.6 465.1,1144.4 466.8,1159.4 468.6,1159.2 470.3,1150.0 472.0,1156.5 473.8,1147.3 475.5,1148.6 477.3,1154.2 479.0,1153.5 480.8,1149.0 482.5,1158.4 484.3,1156.3 486.0,1153.1 487.7,1144.6 489.5,1153.8 491.2,1150.7 493.0,1152.8 494.7,1160.3 496.5,1149.0 498.2,1155.7 500.0,1159.4 501.7,1155.7 503.5,1161.0 505.2,1145.1 506.9,1152.3 508.7,1146.5 510.4,1152.0 512.2,1157.6 513.9,1145.5 515.7,1149.9 517.4,1154.6 519.2,1151.5 520.9,1156.0 522.6,1144.4 524.4,1156.3 526.1,1146.6 527.9,1145.5 529.6,1154.4 531.4,1154.0 533.1,1148.4 534.9,1148.0 536.6,1150.7 538.4,1151.3 540.1,1150.5 541.8,1147.2 543.6,1146.3 545.3,1154.7 547.1,1151.0 548.8,1146.7 550.6,1146.6 552.3,1148.4 554.1,1149.3 555.8,1146.6 557.5,1155.0 559.3,1152.4 561.0,1149.9 562.8,1152.4 564.5,1151.8 566.3,1155.0 568.0,1150.6 569.8,1155.7 571.5,1155.7 573.3,1146.4 575.0,1144.8 576.7,1141.1 578.5,1144.9 580.2,1141.7 582.0,1147.2 583.7,1149.2 585.5,1150.7 587.2,1142.0 589.0,1153.3 590.7,1146.8 592.4,1146.9 594.2,1144.5 595.9,1140.8 597.7,1146.2 599.4,1139.7 601.2,1147.8 602.9,1143.3 604.7,1147.3 606.4,1144.5 608.2,1144.1 609.9,1145.8 611.6,1140.1 613.4,1144.9 615.1,1139.0 616.9,1140.1 618.6,1136.2 620.4,1140.4 622.1,1140.4 623.9,1135.0 625.6,1130.8 627.3,1134.7 629.1,1135.6 630.8,1132.0 632.6,1127.8 634.3,1128.8 636.1,1130.5 637.8,1126.2 639.6,1128.7 641.3,1135.4 643.1,1125.4 644.8,1127.1 646.5,1132.0 648.3,1127.7 650.0,1127.3 651.8,1118.7 653.5,1110.4 655.3,1126.9 657.0,1120.1 658.8,1119.3 660.5,1125.8 662.2,1122.7 664.0,1117.8 665.7,1110.1 667.5,1117.0 669.2,1117.4 671.0,1114.1 672.7,1114.5 674.5,1115.4 676.2,1122.6 678.0,1121.4 679.7,1127.6 681.4,1127.5 683.2,1127.5 684.9,1127.6 686.7,1132.1 688.4,1130.1 690.2,1122.1 691.9,1124.0 693.7,1126.7 695.4,1121.8 697.1,1127.8 698.9,1118.5 700.6,1117.3 702.4,1126.3 704.1,1123.3 705.9,1113.5 707.6,1118.7 709.4,1123.7 711.1,1110.0 712.9,1107.9 714.6,1106.1 716.3,1106.2 718.1,1102.4 719.8,1107.6 721.6,1101.0 723.3,1112.7 725.1,1123.0 726.8,1103.9 728.6,1120.2 730.3,1122.3 732.0,1103.7 733.8,1111.4 735.5,1109.7 737.3,1109.4 739.0,1113.2 740.8,1112.3 742.5,1117.6 744.3,1113.3 746.0,1114.3 747.8,1110.8 749.5,1120.6 751.2,1113.9 753.0,1108.7 754.7,1121.3 756.5,1122.2 758.2,1114.1 760.0,1111.3 761.7,1110.8 763.5,1125.5 765.2,1113.5 766.9,1110.1 768.7,1122.3 770.4,1113.4 770.8,1110.7 772.7,1073.0 774.6,1027.8 776.5,1002.2 778.3,1035.3 780.2,1080.5 782.9,1114.4 784.4,1123.6 786.1,1124.2 787.9,1114.7 789.6,1112.6 791.4,1125.5 793.1,1124.8 794.9,1130.6 796.6,1126.3 798.4,1135.3 800.1,1140.9 801.8,1143.8 803.6,1142.5 805.3,1135.9 807.1,1139.8 808.8,1128.9 810.6,1137.3 812.3,1130.7 814.1,1136.0 815.8,1129.7 817.6,1125.9 819.3,1122.3 821.0,1136.0 822.8,1127.1 824.5,1132.3 826.3,1130.5 828.0,1117.2 829.8,1132.1 831.5,1125.5 833.3,1130.8 835.0,1129.4 836.7,1116.4 838.5,1120.5 840.2,1120.2 842.0,1120.9 843.7,1122.5 845.5,1112.3 847.2,1113.4 849.0,1116.1 850.7,1106.2 852.5,1116.4 854.2,1104.3 855.9,1114.7 856.7,1103.1 858.6,1073.0 860.8,1057.2 861.9,1073.0 863.8,1106.9 864.7,1111.0 866.4,1121.2 868.2,1125.4 869.9,1128.1 871.6,1114.7 873.4,1114.4 875.1,1111.8 876.9,1114.8 878.6,1108.7 880.4,1112.8 882.1,1117.9 883.9,1111.7 885.6,1118.4 887.4,1112.0 889.1,1107.1 890.8,1113.6 892.6,1108.1 894.3,1101.3 896.1,1100.1 897.8,1106.0 899.6,1111.1 901.3,1114.1 903.1,1102.0 904.8,1091.0 906.5,1082.8 908.3,1093.2 910.0,1095.4 911.8,1101.6 913.5,1090.6 915.3,1085.0 917.0,1095.4 918.8,1088.5 920.5,1082.8 921.0,1086.2 923.3,1054.2 925.9,1018.0 928.5,1054.2 931.2,1084.3 932.7,1090.8 934.5,1091.3 936.2,1095.1 938.0,1094.9 939.7,1112.0 941.4,1116.1 943.2,1113.0 944.9,1101.6 946.7,1106.1 948.4,1105.9 950.2,1113.7 951.9,1109.7 953.7,1112.4 955.4,1114.6 957.2,1121.7 958.9,1115.0 960.6,1124.6 962.4,1114.8 964.1,1120.7 965.9,1121.2 967.6,1118.9 968.5,1118.2 970.7,1097.5 973.0,1092.6 975.3,1106.9 977.9,1125.7 978.1,1134.5 979.8,1124.8 981.6,1133.8 983.3,1131.6 985.1,1142.6 986.8,1135.7 988.6,1137.0 990.3,1128.1 992.1,1139.0 993.8,1128.8 995.5,1136.1 997.3,1131.6 999.0,1125.1 1000.8,1120.7 1002.5,1116.9 1004.3,1117.0 1006.0,1121.1 1007.8,1127.3 1009.5,1125.5 1011.2,1135.9 1013.0,1140.1 1014.7,1138.0 1016.5,1139.3 1018.2,1140.9 1020.0,1143.5 1021.7,1138.7 1023.5,1144.4 1025.2,1138.9 1027.0,1142.9 1028.7,1141.7 1030.4,1132.4 1032.2,1140.1 1033.9,1137.4 1035.7,1130.8 1037.4,1135.2 1039.2,1135.1 1040.9,1134.6 1042.7,1137.7 1044.4,1131.0 1046.1,1132.8 1047.9,1125.7 1049.6,1127.8 1051.4,1136.1 1053.1,1132.8 1054.9,1123.6 1056.6,1126.2 1058.4,1132.6 1060.1,1127.4 1061.8,1144.0 1063.6,1140.1 1065.3,1142.2 1067.1,1145.1 1068.8,1140.8 1070.6,1137.4 1072.3,1135.6 1074.1,1134.4 1075.8,1142.5 1077.6,1144.7 1079.3,1138.7 1081.0,1131.5 1082.8,1137.9 1084.5,1140.6 1086.3,1131.5 1088.0,1149.8 1089.8,1132.5 1091.5,1139.7 1093.3,1131.3 1095.0,1143.3 1096.7,1128.9 1098.5,1130.3 1100.2,1140.1 1102.0,1126.9 1103.7,1129.6 1105.5,1134.0 1107.2,1133.8 1109.0,1127.4 1110.7,1136.2 1112.5,1133.0 1114.2,1140.3 1115.9,1130.0 1117.7,1139.6 1119.4,1138.6 1121.2,1136.2 1122.9,1137.2 1124.7,1141.8 1126.4,1138.5 1128.2,1141.1 1129.9,1139.8 1131.6,1142.4 1133.4,1143.7 1135.1,1134.5 1136.9,1139.1 1138.6,1141.6 1140.4,1147.1 1142.1,1139.6 1143.9,1149.7 1145.6,1139.4 1147.4,1140.0 1149.1,1134.5 1150.8,1134.1 1152.6,1133.4 1154.3,1132.8 1156.1,1148.5 1157.8,1150.8 1159.6,1143.1 1161.3,1142.6 1163.1,1142.1 1164.8,1135.9 1166.5,1136.5 1168.3,1145.1 1170.0,1146.9 1171.8,1138.5 1173.5,1133.0 1175.3,1130.8 1177.0,1131.5 1178.8,1135.9 1180.5,1131.7 1182.3,1126.0 1184.0,1126.6 1185.7,1135.1 1187.5,1135.6 1189.2,1142.4 1191.0,1143.6 1192.7,1139.0 1194.5,1136.4 1196.2,1142.6 1198.0,1136.1 1199.7,1135.2 1201.4,1141.1 1203.2,1137.4 1204.9,1140.3 1206.7,1143.0 1208.4,1136.8 1210.2,1143.3 1211.9,1141.8 1213.7,1143.2 1215.4,1143.2 1217.2,1144.9 1218.9,1137.1 1220.6,1137.1 1222.4,1143.9 1224.1,1146.1 1225.9,1141.0 1227.6,1142.9 1229.4,1136.6 1231.1,1148.5 1232.9,1145.7 1234.6,1150.1 1236.3,1140.8 1238.1,1142.4 1239.8,1143.4 1241.6,1151.4 1243.3,1146.9 1245.1,1145.8 1246.8,1132.8 1248.6,1135.6 1250.3,1131.8 1252.1,1141.0 1253.8,1150.7 1255.5,1143.7 1257.3,1137.1 1259.0,1152.0 1260.8,1139.3 1262.5,1150.3 1264.3,1148.7 1266.0,1142.8 1267.8,1146.3 1269.5,1130.3 1271.2,1129.2 1273.0,1125.4 1274.7,1123.0 1276.5,1121.4 1278.2,1125.5 1280.0,1126.9 1281.7,1135.0 1283.5,1133.9 1285.2,1147.0 1287.0,1149.5 1288.7,1142.3 1290.4,1140.6 1292.2,1141.2 1293.9,1150.2 1295.7,1148.8 1297.4,1147.5 1299.2,1149.9 1300.9,1150.0 1302.7,1150.8 1304.4,1145.8 1306.1,1152.9 1307.9,1153.4 1309.6,1154.7 1311.4,1153.7 1313.1,1146.6 1314.9,1150.1 1316.6,1143.1 1318.4,1154.0 1320.1,1141.8 1321.9,1151.7 1323.6,1143.1 1325.3,1142.4 1327.1,1141.4 1328.8,1145.6 1329.7,1140.8 1331.6,1103.1 1333.8,1054.2 1336.1,1034.6 1338.3,1065.5 1340.2,1110.7 1342.5,1144.6 1342.8,1150.8 1344.5,1152.2 1346.3,1150.7 1348.0,1152.8 1349.8,1148.7 1351.5,1150.2 1353.3,1149.3 1355.0,1145.1 1356.8,1139.0 1358.5,1142.0 1360.2,1138.7 1362.0,1145.7 1363.7,1153.8 1365.5,1148.2 1367.2,1148.6 1369.0,1151.2 1370.7,1147.8 1372.5,1147.9 1374.2,1159.8 1375.9,1155.1 1377.7,1150.9 1379.4,1149.4 1381.2,1146.6 1382.9,1147.1 1384.7,1146.9 1386.4,1157.5 1388.2,1152.0 1389.9,1159.6 1391.7,1155.2 1393.4,1149.8 1395.1,1161.4 1396.9,1158.6 1398.6,1160.5 1400.4,1155.6 1402.1,1156.3 1403.9,1158.3 1405.6,1163.2 1407.4,1155.1 1409.1,1154.5 1410.8,1160.5 1412.6,1151.1 1414.3,1165.3 1416.1,1151.0 1417.8,1169.2 1419.6,1159.8 1421.3,1159.0 1423.1,1153.3 1424.8,1174.3 1426.6,1161.5 1428.3,1153.6 1430.0,1165.3 1431.8,1159.2 1433.5,1161.4 1435.3,1155.9 1437.0,1159.2 1438.8,1159.5 1440.5,1157.8 1442.3,1153.4 1444.0,1159.3 1445.7,1161.5 1447.5,1159.3 1449.2,1161.3 1451.0,1161.4 1452.7,1158.3 1454.5,1163.4 1456.2,1159.3 1458.0,1156.8 1459.7,1155.6 1461.5,1164.9 1463.2,1163.7 1464.9,1163.5 1466.7,1157.7 1468.4,1154.3 1470.2,1164.3 1471.9,1160.1 1473.7,1157.9 1475.4,1158.0 1477.2,1158.2 1478.9,1155.8 1480.6,1162.8 1482.4,1163.0 1484.1,1163.6 1485.9,1158.5 1487.6,1154.5 1489.4,1154.2 1491.1,1157.4 1492.9,1163.7 1494.6,1161.3 1496.4,1155.9 1498.1,1157.4 1499.8,1160.3 1501.6,1157.6 1503.3,1159.7 1505.1,1160.7 1506.8,1158.1 1508.6,1156.5 1510.3,1159.3 1512.1,1166.7 1513.8,1156.5 1515.5,1159.8 1517.3,1159.8 1519.0,1161.3 1520.8,1158.6 1522.5,1162.1 1524.3,1155.0 1526.0,1150.8 1527.8,1147.0 1529.5,1142.7 1531.3,1145.0 1533.0,1150.1 1534.7,1148.9 1536.5,1158.9 1538.2,1159.1 1540.0,1163.5 1541.7,1168.4 1543.5,1162.1 1545.2,1169.2 1547.0,1168.2 1548.7,1167.1 1550.4,1171.7 1552.2,1166.0 1553.9,1162.8 1555.7,1168.5 1557.4,1167.4 1559.2,1163.8 1560.9,1160.5 1562.7,1159.9 1564.4,1171.8 1566.2,1159.7 1567.9,1171.5 1569.6,1169.2 1571.4,1159.7 1573.1,1166.2 1574.9,1168.1 1576.6,1170.5 1578.4,1171.8 1580.1,1172.2 1581.9,1163.1 1583.6,1161.6 1585.3,1162.0 1587.1,1166.8 1588.8,1157.5 1590.6,1157.0 1592.3,1170.6 1594.1,1168.4 1595.8,1168.6 1597.6,1161.4 1599.3,1158.1 1601.1,1160.3 1602.8,1158.5 1603.5,1165.0 1605.0,1130.0 1606.5,1090.0 1608.5,1040.0 1610.0,960.0 1611.2,850.0 1611.6,700.0 1615.8,700.0 1616.2,956.0 1616.8,700.0 1622.5,700.0 1623.0,870.0 1624.5,1000.0 1626.5,1080.0 1628.5,1140.0 1630.0,1166.0 1630.7,1166.9 1632.5,1166.4 1634.2,1164.6 1636.0,1163.5 1637.7,1163.4 1639.4,1165.0 1641.2,1158.3 1642.9,1163.7 1644.7,1163.4 1646.4,1153.3 1648.2,1153.3 1649.9,1159.6 1651.7,1158.6 1653.4,1157.5 1655.1,1156.0 1656.9,1156.4 1658.6,1154.9 1660.4,1158.5 1662.1,1155.0 1663.9,1156.3 1665.6,1161.7 1667.4,1167.2 1669.1,1167.6 1670.9,1164.5 1672.6,1166.2 1674.3,1165.0 1676.1,1165.6 1677.8,1164.5 1679.6,1167.2 1681.3,1165.7 1683.1,1167.4 1684.8,1170.0 1686.6,1169.4 1688.3,1172.7 1690.0,1161.5 1691.8,1152.3 1693.5,1149.6 1695.3,1143.4 1697.0,1144.3 1698.8,1148.8 1700.5,1154.1 1702.3,1163.7 1704.0,1161.3 1705.8,1167.4 1707.5,1173.3 1709.2,1165.7 1711.0,1167.1 1712.7,1170.5 1714.5,1161.7 1716.2,1169.2 1718.0,1165.5 1719.7,1164.6 1721.5,1165.9 1723.2,1164.1 1724.9,1170.5 1726.7,1167.7 1728.4,1165.5 1730.2,1168.6 1731.9,1161.9 1733.7,1161.5 1735.4,1170.9 1737.2,1163.3 1738.9,1168.1 1740.7,1161.0 1742.4,1159.1 1744.1,1159.2 1745.9,1166.8 1747.6,1164.2 1749.4,1160.1 1751.1,1165.1 1752.0,1162.0 1753.5,1140.0 1755.5,1110.0 1757.5,1080.0 1759.5,1030.0 1761.0,960.0 1762.2,888.0 1762.8,888.0 1764.5,960.0 1766.5,1040.0 1768.0,1090.0 1770.0,1140.0 1771.5,1166.0 1772.1,1170.0 1773.8,1164.9 1775.6,1161.6 1777.3,1170.5 1779.0,1170.0 1780.8,1167.4 1782.5,1161.1 1784.3,1167.3 1786.0,1159.8 1787.8,1165.2 1789.5,1166.3 1791.3,1164.3 1793.0,1158.1 1794.7,1165.9 1796.5,1165.3 1798.2,1168.5 1800.0,1174.0 1801.7,1163.8 1803.5,1163.8 1805.2,1162.6 1807.0,1176.4 1808.7,1166.8 1810.5,1177.1 1812.2,1172.8 1813.9,1176.4 1815.7,1172.0 1817.4,1173.0 1819.2,1169.8 1820.9,1172.2 1822.7,1165.5 1824.4,1173.3 1826.2,1164.0 1827.9,1166.3 1829.6,1166.0 1831.4,1166.7 1833.1,1164.9 1834.9,1160.4 1836.6,1163.5 1838.4,1158.8 1840.1,1162.5 1841.9,1166.7 1843.6,1165.7 1845.4,1174.1 1847.1,1170.0 1848.8,1172.7 1850.6,1166.5 1852.3,1175.1 1854.1,1174.6 1855.8,1167.1 1857.6,1177.0 1859.3,1166.5 1861.1,1165.7 1862.8,1173.5 1864.5,1175.1 1866.3,1171.7 1868.0,1168.4 1869.8,1165.3 1871.5,1165.0 1873.3,1171.3 1875.0,1171.8 1876.8,1165.0 1878.5,1171.4 1880.3,1165.4"/></g>
<line x1="308.9" y1="774.6" x2="308.9" y2="1295.8000000000002" stroke="#000" stroke-width="2.1" stroke-linecap="butt"/>
<line x1="307.9" y1="1294.4" x2="1881" y2="1294.4" stroke="#000" stroke-width="2.9" stroke-linecap="butt"/>
<line x1="308.9" y1="1247.5" x2="330.9" y2="1247.5" stroke="#000" stroke-width="2.9" stroke-linecap="butt"/>
<line x1="308.9" y1="1153.2" x2="319.9" y2="1153.2" stroke="#000" stroke-width="2.9" stroke-linecap="butt"/>
<line x1="308.9" y1="1058.9" x2="330.9" y2="1058.9" stroke="#000" stroke-width="2.9" stroke-linecap="butt"/>
<line x1="308.9" y1="964.6" x2="319.9" y2="964.6" stroke="#000" stroke-width="2.9" stroke-linecap="butt"/>
<line x1="308.9" y1="870.3" x2="330.9" y2="870.3" stroke="#000" stroke-width="2.9" stroke-linecap="butt"/>
<line x1="308.9" y1="776.0" x2="319.9" y2="776.0" stroke="#000" stroke-width="2.9" stroke-linecap="butt"/>
<line x1="396.15" y1="1294.4" x2="396.15" y2="1279.9" stroke="#000" stroke-width="2" stroke-linecap="butt"/>
<line x1="483.4" y1="1294.4" x2="483.4" y2="1267.9" stroke="#000" stroke-width="2" stroke-linecap="butt"/>
<line x1="570.65" y1="1294.4" x2="570.65" y2="1279.9" stroke="#000" stroke-width="2" stroke-linecap="butt"/>
<line x1="657.9" y1="1294.4" x2="657.9" y2="1267.9" stroke="#000" stroke-width="2" stroke-linecap="butt"/>
<line x1="745.15" y1="1294.4" x2="745.15" y2="1279.9" stroke="#000" stroke-width="2" stroke-linecap="butt"/>
<line x1="832.4" y1="1294.4" x2="832.4" y2="1267.9" stroke="#000" stroke-width="2" stroke-linecap="butt"/>
<line x1="919.65" y1="1294.4" x2="919.65" y2="1279.9" stroke="#000" stroke-width="2" stroke-linecap="butt"/>
<line x1="1006.9" y1="1294.4" x2="1006.9" y2="1267.9" stroke="#000" stroke-width="2" stroke-linecap="butt"/>
<line x1="1094.15" y1="1294.4" x2="1094.15" y2="1279.9" stroke="#000" stroke-width="2" stroke-linecap="butt"/>
<line x1="1181.4" y1="1294.4" x2="1181.4" y2="1267.9" stroke="#000" stroke-width="2" stroke-linecap="butt"/>
<line x1="1268.65" y1="1294.4" x2="1268.65" y2="1279.9" stroke="#000" stroke-width="2" stroke-linecap="butt"/>
<line x1="1355.9" y1="1294.4" x2="1355.9" y2="1267.9" stroke="#000" stroke-width="2" stroke-linecap="butt"/>
<line x1="1443.15" y1="1294.4" x2="1443.15" y2="1279.9" stroke="#000" stroke-width="2" stroke-linecap="butt"/>
<line x1="1530.4" y1="1294.4" x2="1530.4" y2="1267.9" stroke="#000" stroke-width="2" stroke-linecap="butt"/>
<line x1="1617.65" y1="1294.4" x2="1617.65" y2="1279.9" stroke="#000" stroke-width="2" stroke-linecap="butt"/>
<line x1="1704.9" y1="1294.4" x2="1704.9" y2="1267.9" stroke="#000" stroke-width="2" stroke-linecap="butt"/>
<line x1="1792.15" y1="1294.4" x2="1792.15" y2="1279.9" stroke="#000" stroke-width="2" stroke-linecap="butt"/>
<line x1="1879.4" y1="1294.4" x2="1879.4" y2="1267.9" stroke="#000" stroke-width="2" stroke-linecap="butt"/>
<text x="308.9" y="1374.9" font-size="65.5" text-anchor="middle" >5</text>
<text x="483.4" y="1374.9" font-size="65.5" text-anchor="middle" >10</text>
<text x="657.9" y="1374.9" font-size="65.5" text-anchor="middle" >15</text>
<text x="832.4" y="1374.9" font-size="65.5" text-anchor="middle" >20</text>
<text x="1006.9" y="1374.9" font-size="65.5" text-anchor="middle" >25</text>
<text x="1181.4" y="1374.9" font-size="65.5" text-anchor="middle" >30</text>
<text x="1355.9" y="1374.9" font-size="65.5" text-anchor="middle" >35</text>
<text x="1530.4" y="1374.9" font-size="65.5" text-anchor="middle" >40</text>
<text x="1704.9" y="1374.9" font-size="65.5" text-anchor="middle" >45</text>
<text x="1879.4" y="1374.9" font-size="65.5" text-anchor="middle" >50</text>
<line x1="390" y1="808.8" x2="586.5" y2="808.8" stroke="#00f" stroke-width="6.3" stroke-linecap="round"/>
<text x="608.5" y="836.4" font-size="77.5" text-anchor="start" id="smarthit">SmartHit IV Ferrum</text>
<line x1="608.5" y1="848.4" x2="1275.5" y2="848.4" stroke="#000" stroke-width="5.7" stroke-linecap="butt"/>
<text x="1070" y="1474.9" font-size="93" text-anchor="start" >2</text>
<text x="1123.1" y="1474.9" font-size="88" text-anchor="start" class="sf">Θ</text>
<text x="1210.9" y="1474.5" font-size="87" text-anchor="start" >(</text>
<text x="1240.1" y="1424.6" font-size="57" text-anchor="start" >o</text>
<text x="1271.4" y="1474.5" font-size="87" text-anchor="start" >)</text>
</g>
<g class="sf" font-size="85" text-anchor="middle"><text x="1040.5" y="1645.5">(<tspan font-weight="bold">b</tspan>)</text></g>
<g id="chartC">
<line x1="112.6" y1="1956.1000000000001" x2="112.6" y2="3029.9" stroke="#000" stroke-width="4.6" stroke-linecap="butt"/>
<line x1="110.3" y1="3027.6" x2="1559.8" y2="3027.6" stroke="#000" stroke-width="4.6" stroke-linecap="butt"/>
<line x1="112.6" y1="1958.4" x2="134.6" y2="1958.4" stroke="#000" stroke-width="4.6" stroke-linecap="butt"/>
<line x1="112.6" y1="2172.2400000000002" x2="154.6" y2="2172.2400000000002" stroke="#000" stroke-width="4.6" stroke-linecap="butt"/>
<line x1="112.6" y1="2386.08" x2="134.6" y2="2386.08" stroke="#000" stroke-width="4.6" stroke-linecap="butt"/>
<line x1="112.6" y1="2599.92" x2="134.6" y2="2599.92" stroke="#000" stroke-width="4.6" stroke-linecap="butt"/>
<line x1="112.6" y1="2813.76" x2="134.6" y2="2813.76" stroke="#000" stroke-width="4.6" stroke-linecap="butt"/>
<line x1="215.8" y1="3027.6" x2="215.8" y2="3004.1" stroke="#000" stroke-width="4.5" stroke-linecap="butt"/>
<line x1="319.0" y1="3027.6" x2="319.0" y2="2985.6" stroke="#000" stroke-width="4.5" stroke-linecap="butt"/>
<line x1="422.20000000000005" y1="3027.6" x2="422.20000000000005" y2="3004.1" stroke="#000" stroke-width="4.5" stroke-linecap="butt"/>
<line x1="525.4" y1="3027.6" x2="525.4" y2="2985.6" stroke="#000" stroke-width="4.5" stroke-linecap="butt"/>
<line x1="628.6" y1="3027.6" x2="628.6" y2="3004.1" stroke="#000" stroke-width="4.5" stroke-linecap="butt"/>
<line x1="731.8000000000001" y1="3027.6" x2="731.8000000000001" y2="2985.6" stroke="#000" stroke-width="4.5" stroke-linecap="butt"/>
<line x1="835.0" y1="3027.6" x2="835.0" y2="3004.1" stroke="#000" stroke-width="4.5" stroke-linecap="butt"/>
<line x1="938.2" y1="3027.6" x2="938.2" y2="2985.6" stroke="#000" stroke-width="4.5" stroke-linecap="butt"/>
<line x1="1041.4" y1="3027.6" x2="1041.4" y2="3004.1" stroke="#000" stroke-width="4.5" stroke-linecap="butt"/>
<line x1="1144.6" y1="3027.6" x2="1144.6" y2="2985.6" stroke="#000" stroke-width="4.5" stroke-linecap="butt"/>
<line x1="1247.8" y1="3027.6" x2="1247.8" y2="3004.1" stroke="#000" stroke-width="4.5" stroke-linecap="butt"/>
<line x1="1351.0" y1="3027.6" x2="1351.0" y2="2985.6" stroke="#000" stroke-width="4.5" stroke-linecap="butt"/>
<line x1="1454.2" y1="3027.6" x2="1454.2" y2="3004.1" stroke="#000" stroke-width="4.5" stroke-linecap="butt"/>
<line x1="1557.3999999999999" y1="3027.6" x2="1557.3999999999999" y2="2985.6" stroke="#000" stroke-width="4.5" stroke-linecap="butt"/>
<clipPath id="clipC"><rect x="100" y="1956" width="1500" height="1080"/></clipPath>
<g clip-path="url(#clipC)"><polyline fill="none" stroke="#f00" stroke-width="6.5" stroke-linejoin="round" stroke-linecap="butt" points="116.0,2677.9 118.1,2750.0 120.1,2727.2 122.2,2771.6 124.3,2718.6 126.3,2740.9 128.4,2756.5 130.4,2752.3 132.5,2751.8 134.6,2732.5 136.6,2758.5 138.7,2731.2 140.8,2740.2 142.8,2742.0 144.9,2747.3 147.0,2743.3 149.0,2777.9 151.1,2752.0 153.2,2770.4 155.2,2702.4 157.3,2762.9 159.3,2751.2 161.4,2772.9 163.5,2779.6 165.5,2796.5 167.6,2824.3 169.7,2786.6 171.7,2781.9 173.8,2777.1 175.9,2770.1 177.9,2762.2 180.0,2771.7 182.0,2745.4 184.1,2785.4 186.2,2779.8 188.2,2723.1 190.3,2765.0 192.4,2748.4 194.4,2759.1 196.5,2816.0 198.6,2775.1 200.6,2776.0 202.7,2772.6 204.8,2788.2 206.8,2757.5 208.9,2803.5 210.9,2774.6 213.0,2787.1 215.1,2811.1 217.1,2768.6 219.2,2737.7 221.3,2771.0 223.3,2765.1 225.4,2761.6 227.5,2752.8 229.5,2751.3 231.6,2751.5 233.6,2787.1 235.7,2728.7 237.8,2771.8 239.8,2792.3 241.9,2770.7 244.0,2755.2 246.0,2748.4 248.1,2745.5 250.2,2767.5 252.2,2781.8 254.3,2738.2 256.4,2730.8 258.4,2755.6 260.5,2765.4 262.5,2794.6 264.6,2714.8 266.7,2804.4 268.7,2781.4 270.8,2734.3 272.9,2732.0 274.9,2736.0 277.0,2758.2 279.1,2758.1 281.1,2769.7 283.2,2769.2 285.2,2794.3 287.3,2775.2 289.4,2735.1 291.4,2733.6 293.5,2768.7 295.6,2748.3 297.6,2793.0 299.7,2766.1 301.8,2774.4 303.8,2794.3 305.9,2792.4 308.0,2836.4 310.0,2791.7 312.1,2798.9 314.1,2780.3 316.2,2768.6 318.3,2790.9 320.3,2805.3 322.4,2751.3 324.5,2765.4 326.5,2794.5 328.6,2767.5 330.7,2778.4 332.7,2769.7 334.8,2781.3 336.8,2751.3 338.9,2795.8 341.0,2781.4 343.0,2780.3 345.1,2764.9 347.2,2822.4 349.2,2774.5 351.3,2808.4 353.4,2807.4 355.4,2820.6 357.5,2787.4 359.6,2806.7 361.6,2829.3 363.7,2789.2 365.7,2834.3 367.8,2851.4 369.9,2811.0 371.9,2797.7 374.0,2770.2 376.1,2794.9 378.1,2797.4 380.2,2807.6 382.3,2787.4 384.3,2819.5 386.4,2803.9 388.4,2814.7 390.5,2814.2 392.6,2842.4 394.6,2789.3 396.7,2796.3 398.8,2796.5 400.8,2757.8 402.9,2830.7 405.0,2826.7 407.0,2820.0 409.1,2822.2 411.2,2842.5 413.2,2820.6 415.3,2827.0 417.3,2840.9 419.4,2824.1 421.5,2825.3 423.5,2831.8 425.6,2814.1 427.7,2832.7 429.7,2840.4 431.8,2848.2 433.9,2837.4 435.9,2822.9 438.0,2877.1 440.0,2863.8 442.1,2829.1 444.2,2825.3 446.2,2853.8 448.3,2857.2 450.4,2853.1 452.4,2864.1 454.5,2870.6 456.6,2868.0 458.6,2880.1 460.7,2875.3 462.8,2840.7 464.8,2867.4 466.9,2854.3 468.9,2848.2 471.0,2869.4 473.1,2878.5 475.1,2853.4 477.2,2867.3 479.3,2873.4 481.3,2872.2 483.4,2863.2 485.5,2849.8 487.5,2860.4 489.6,2878.1 491.6,2845.0 493.7,2883.8 495.8,2860.7 497.8,2860.1 499.9,2896.6 502.0,2865.5 504.0,2864.4 506.1,2837.4 508.2,2874.8 510.2,2869.3 512.3,2859.4 514.4,2840.1 516.4,2850.8 518.5,2854.2 520.5,2871.1 522.6,2860.9 524.7,2846.2 526.7,2865.2 528.8,2867.8 530.9,2898.9 532.9,2892.8 535.0,2860.0 537.1,2851.9 539.1,2892.4 541.2,2886.4 543.2,2847.5 545.3,2876.1 547.4,2853.3 549.4,2871.3 551.5,2869.0 553.6,2840.9 555.6,2842.6 557.7,2857.9 559.8,2839.5 561.8,2840.1 563.9,2849.9 566.0,2864.5 568.0,2868.6 570.1,2864.3 572.1,2872.9 574.2,2893.8 576.3,2890.5 578.3,2905.7 580.4,2870.6 582.5,2865.4 584.5,2851.9 586.6,2852.0 588.7,2839.9 590.7,2856.7 592.8,2855.1 594.8,2852.4 596.9,2855.8 599.0,2848.4 601.0,2884.6 603.1,2885.6 605.2,2896.9 607.2,2886.2 609.3,2881.6 611.4,2901.2 613.4,2864.1 615.5,2860.7 617.6,2892.5 619.6,2883.1 621.7,2876.8 623.7,2893.3 625.8,2874.2 627.9,2880.0 629.9,2884.1 632.0,2859.1 634.1,2877.7 636.1,2877.0 638.2,2861.2 640.3,2836.1 642.3,2841.5 644.4,2835.3 646.4,2840.1 648.5,2865.0 650.6,2864.7 652.6,2854.3 654.7,2849.3 656.8,2883.3 658.8,2884.6 660.9,2873.4 663.0,2851.5 665.0,2878.7 667.1,2881.0 669.2,2862.9 671.2,2860.7 673.3,2869.2 675.3,2881.1 677.4,2887.4 679.5,2902.3 681.5,2880.2 683.6,2867.8 685.7,2876.7 687.7,2882.8 689.8,2869.5 691.9,2877.0 693.9,2868.9 696.0,2863.0 698.0,2857.7 700.1,2852.9 702.2,2824.7 704.2,2819.1 706.3,2839.4 708.4,2864.1 710.4,2883.7 712.5,2902.3 714.6,2863.4 716.6,2873.0 718.7,2843.7 720.8,2867.9 722.8,2874.6 724.9,2866.6 726.9,2877.9 729.0,2851.5 731.1,2838.4 733.1,2871.3 735.2,2880.1 737.3,2856.4 739.3,2878.5 741.4,2866.0 743.5,2878.8 745.5,2862.7 747.6,2865.1 749.6,2872.9 751.7,2846.6 753.8,2868.8 755.8,2902.3 757.9,2889.8 760.0,2866.7 762.0,2861.0 764.1,2853.1 766.2,2871.9 768.2,2857.2 770.3,2852.3 772.4,2837.4 774.4,2867.1 776.5,2855.2 778.5,2859.6 780.6,2868.8 782.7,2871.3 784.7,2894.6 786.8,2902.3 788.9,2888.6 790.9,2880.1 793.0,2882.6 795.1,2874.9 797.1,2877.4 799.2,2877.5 801.2,2879.0 803.3,2886.8 805.4,2871.9 807.4,2865.8 809.5,2865.4 811.6,2862.2 813.6,2876.3 815.7,2852.7 817.8,2882.1 819.8,2865.5 821.9,2861.1 824.0,2880.9 826.0,2883.6 828.1,2902.1 830.1,2909.8 832.2,2902.8 834.3,2883.9 836.3,2893.2 838.4,2867.9 840.5,2854.5 842.5,2865.0 844.6,2865.9 846.7,2874.2 848.7,2876.2 850.8,2861.5 852.8,2862.8 854.9,2870.9 857.0,2862.0 859.0,2876.3 861.1,2877.8 863.2,2877.8 865.2,2862.2 867.3,2838.4 869.4,2872.3 871.4,2866.3 873.5,2857.7 875.6,2885.0 877.6,2879.6 879.7,2865.0 881.7,2863.6 883.8,2848.4 885.9,2871.6 887.9,2869.3 890.0,2850.7 892.1,2888.3 894.1,2869.0 896.2,2848.0 898.3,2863.0 900.3,2847.9 902.4,2854.2 904.4,2847.8 906.5,2868.2 908.6,2847.3 910.6,2853.2 912.7,2860.9 914.8,2855.6 916.8,2858.1 918.9,2839.9 921.0,2854.3 923.0,2904.2 925.1,2878.0 927.2,2896.6 929.2,2887.9 931.3,2891.4 933.3,2884.5 935.4,2912.4 937.5,2919.2 939.5,2902.2 941.6,2903.8 943.7,2886.1 945.7,2854.9 947.8,2863.4 949.9,2862.7 951.9,2874.6 954.0,2880.6 956.0,2893.5 958.1,2879.5 960.2,2880.9 962.2,2884.7 964.3,2901.9 966.4,2885.2 968.4,2892.9 970.5,2897.9 972.6,2906.0 974.6,2888.1 976.7,2888.1 978.8,2897.0 980.8,2891.0 982.9,2892.8 984.9,2888.1 987.0,2910.5 989.1,2889.7 991.1,2910.6 993.2,2923.8 995.3,2913.6 997.3,2909.9 999.4,2895.9 1001.5,2891.2 1003.5,2907.4 1005.6,2924.9 1007.6,2904.6 1009.7,2899.8 1011.8,2918.7 1013.8,2883.1 1015.9,2913.9 1018.0,2874.8 1020.0,2879.9 1022.1,2893.9 1024.2,2878.9 1026.2,2914.4 1028.3,2880.4 1030.4,2882.9 1032.4,2887.9 1034.5,2934.3 1036.5,2936.2 1038.6,2894.2 1040.7,2919.4 1042.7,2891.2 1044.8,2894.2 1046.9,2904.0 1048.9,2910.1 1051.0,2901.1 1053.1,2909.7 1055.1,2916.8 1057.2,2912.4 1059.2,2918.9 1061.3,2916.2 1063.4,2932.4 1065.4,2903.9 1067.5,2931.7 1069.6,2905.3 1071.6,2922.4 1073.7,2926.1 1075.8,2929.9 1077.8,2928.9 1079.9,2894.2 1082.0,2888.1 1084.0,2893.1 1086.1,2936.0 1088.1,2941.8 1090.2,2937.0 1092.3,2911.7 1094.3,2916.6 1096.4,2891.6 1098.5,2890.0 1100.0,2911.2 1103.0,2888.6 1105.6,2943.2 1108.3,2926.3 1110.2,2911.0 1112.1,2898.0 1115.1,2918.7 1117.3,2932.8 1119.6,2949.6 1122.0,2922.0 1124.5,2896.1 1126.4,2908.0 1128.2,2911.2 1130.1,2906.9 1132.0,2903.7 1134.3,2910.4 1136.5,2941.3 1138.6,2933.3 1140.7,2920.6 1142.9,2910.5 1145.2,2903.7 1148.2,2933.8 1150.1,2930.1 1152.0,2928.1 1153.9,2914.9 1155.7,2899.9 1157.6,2914.9 1159.5,2926.3 1161.8,2920.6 1164.0,2896.1 1165.9,2910.2 1167.8,2915.0 1170.8,2935.7 1173.1,2927.0 1175.3,2916.8 1177.6,2918.2 1179.8,2926.3 1181.7,2931.3 1183.6,2952.6 1185.5,2945.0 1187.4,2933.8 1189.8,2940.0 1192.3,2937.6 1194.7,2937.7 1197.2,2937.6 1199.1,2916.0 1200.9,2896.1 1203.2,2906.6 1205.5,2911.2 1208.5,2941.3 1210.7,2919.6 1213.0,2918.7 1214.9,2925.9 1216.8,2937.6 1218.6,2929.3 1220.5,2913.1 1222.4,2915.0 1224.3,2911.1 1226.2,2911.2 1228.1,2924.4 1229.9,2931.9 1231.8,2930.1 1233.7,2926.3 1235.6,2930.9 1237.5,2930.0 1239.9,2899.4 1242.4,2886.7 1244.3,2907.3 1246.1,2918.7 1248.8,2947.0 1250.7,2918.8 1252.5,2915.0 1254.4,2911.7 1256.3,2950.7 1258.2,2946.7 1260.1,2943.8 1262.0,2945.1 1263.8,2943.0 1265.7,2930.0 1267.6,2924.9 1269.5,2900.8 1271.4,2899.9 1273.8,2905.8 1276.3,2905.5 1278.0,2915.3 1279.7,2941.3 1281.5,2926.5 1283.4,2913.1 1285.3,2919.6 1287.2,2930.0 1289.3,2921.4 1291.3,2911.2 1293.6,2925.8 1295.9,2930.0 1298.1,2921.9 1300.4,2903.7 1302.8,2931.0 1305.3,2952.6 1307.9,2958.3 1310.4,2950.7 1312.8,2933.8 1314.7,2931.8 1316.6,2922.4 1318.5,2917.7 1320.3,2916.8 1322.2,2919.0 1324.1,2928.0 1326.0,2930.0 1328.2,2924.2 1330.5,2920.6 1333.0,2942.5 1335.4,2937.6 1337.3,2919.6 1339.2,2906.1 1341.1,2903.7 1343.7,2968.4 1346.1,2955.4 1348.6,2930.0 1350.8,2932.9 1353.1,2926.3 1355.0,2936.9 1356.9,2941.3 1359.9,2878.0 1362.9,2926.3 1364.8,2922.8 1366.7,2907.4 1368.5,2940.0 1370.4,2949.6 1372.1,2925.9 1373.8,2903.7 1376.8,2874.3 1378.7,2888.8 1380.6,2926.3 1382.5,2920.1 1384.4,2918.7 1386.3,2943.3 1388.1,2952.6 1390.0,2925.9 1391.9,2922.5 1394.9,2894.2 1397.6,2945.1 1399.4,2941.5 1401.3,2937.6 1403.2,2939.3 1405.1,2939.4 1407.0,2921.8 1408.9,2909.3 1411.1,2917.3 1413.4,2918.7 1415.8,2911.4 1418.3,2896.1 1420.2,2928.0 1422.0,2922.5 1423.9,2936.3 1425.8,2941.3 1428.2,2925.9 1430.7,2918.7 1433.0,2923.8 1435.2,2935.7 1437.1,2924.7 1439.0,2928.5 1440.9,2916.8 1442.7,2920.8 1444.6,2931.9 1447.3,2890.5 1449.2,2902.1 1451.0,2915.0 1453.1,2938.3 1455.2,2949.6 1457.4,2924.6 1459.7,2911.2 1461.6,2906.1 1463.5,2895.5 1465.3,2899.9 1468.4,2935.7 1470.2,2913.8 1472.1,2909.3 1474.4,2910.0 1476.6,2915.0 1478.5,2915.0 1480.4,2916.3 1482.3,2911.2 1484.7,2923.3 1487.2,2935.7 1489.5,2929.6 1491.7,2920.6 1494.2,2910.4 1496.6,2898.0 1498.9,2914.4 1501.1,2916.8 1503.6,2916.0 1506.0,2907.4 1508.3,2924.7 1510.5,2937.6 1512.8,2940.7 1515.1,2957.1 1518.1,2905.5 1520.3,2924.6 1522.6,2930.0 1525.0,2919.7 1527.5,2903.7 1529.9,2928.6 1532.4,2933.8 1534.3,2917.5 1536.2,2901.8 1538.0,2929.8 1539.9,2926.3 1542.2,2935.3 1544.4,2949.6 1547.5,2903.7 1549.7,2904.8 1552.0,2886.7 1555.0,2935.7 1557.6,2911.2"/>
<polyline fill="none" stroke="#00f" stroke-width="6.5" stroke-linejoin="round" stroke-linecap="butt" points="116.0,2584.2 118.1,2592.6 120.1,2561.6 122.2,2588.0 124.3,2572.8 126.3,2538.1 128.4,2565.7 130.4,2590.8 132.5,2592.6 134.6,2602.6 136.6,2553.9 138.7,2574.5 140.8,2567.0 142.8,2591.4 144.9,2578.5 147.0,2629.5 149.0,2607.2 151.1,2601.5 153.2,2617.6 155.2,2579.5 157.3,2593.0 159.3,2541.9 161.4,2548.1 163.5,2627.4 165.5,2609.3 167.6,2631.3 169.7,2651.0 171.7,2611.6 173.8,2648.1 175.9,2611.9 177.9,2613.7 180.0,2631.1 182.0,2597.2 184.1,2601.9 186.2,2650.7 188.2,2642.0 190.3,2661.5 192.4,2625.5 194.4,2645.6 196.5,2656.2 198.6,2635.0 200.6,2624.6 202.7,2614.9 204.8,2625.9 206.8,2655.5 208.9,2669.8 210.9,2634.3 213.0,2659.7 215.1,2619.5 217.1,2618.0 219.2,2658.9 221.3,2616.8 223.3,2663.3 225.4,2646.4 227.5,2649.3 229.5,2671.4 231.6,2688.7 233.6,2641.3 235.7,2651.9 237.8,2644.9 239.8,2663.7 241.9,2625.5 244.0,2634.6 246.0,2679.2 248.1,2673.5 250.2,2668.6 252.2,2676.6 254.3,2646.6 256.4,2670.0 258.4,2662.5 260.5,2649.6 262.5,2683.0 264.6,2650.5 266.7,2673.0 268.7,2657.9 270.8,2663.2 272.9,2682.6 274.9,2684.7 277.0,2679.7 279.1,2677.0 281.1,2657.3 283.2,2646.2 285.2,2677.1 287.3,2654.6 289.4,2652.7 291.4,2672.7 293.5,2671.8 295.6,2691.0 297.6,2661.1 299.7,2665.1 301.8,2689.9 303.8,2685.9 305.9,2704.8 308.0,2700.2 310.0,2666.7 312.1,2662.8 314.1,2675.9 316.2,2665.3 318.3,2673.2 320.3,2660.4 322.4,2667.1 324.5,2666.8 326.5,2662.1 328.6,2676.6 330.7,2673.7 332.7,2679.6 334.8,2708.3 336.8,2715.0 338.9,2704.9 341.0,2678.3 343.0,2640.5 345.1,2677.0 347.2,2680.2 349.2,2670.4 351.3,2708.6 353.4,2707.2 355.4,2687.6 357.5,2678.5 359.6,2703.6 361.6,2685.8 363.7,2710.5 365.7,2692.5 367.8,2680.9 369.9,2696.7 371.9,2686.3 374.0,2692.3 376.1,2704.4 378.1,2704.7 380.2,2688.3 382.3,2672.2 384.3,2704.8 386.4,2668.2 388.4,2700.5 390.5,2702.5 392.6,2695.2 394.6,2695.1 396.7,2694.1 398.8,2697.8 400.8,2673.2 402.9,2705.1 405.0,2710.5 407.0,2653.5 409.1,2686.5 411.2,2715.2 413.2,2683.4 415.3,2660.6 417.3,2719.2 419.4,2694.7 421.5,2693.6 423.5,2671.9 425.6,2682.6 427.7,2688.2 429.7,2661.0 431.8,2676.9 433.9,2668.0 435.9,2646.6 438.0,2657.3 440.0,2658.9 442.1,2629.2 444.2,2664.7 446.2,2643.4 448.3,2677.1 450.4,2674.0 452.4,2670.2 454.5,2652.1 456.6,2687.9 458.6,2632.9 460.7,2645.1 462.8,2633.9 464.8,2640.7 466.9,2645.1 468.9,2626.3 471.0,2613.0 473.1,2633.5 475.1,2611.9 477.2,2609.3 479.3,2585.0 481.3,2639.8 483.4,2593.9 485.5,2649.1 487.5,2652.1 489.6,2584.1 491.6,2594.5 493.7,2531.3 495.8,2625.8 497.8,2523.5 499.9,2530.8 502.0,2546.1 504.0,2510.6 506.1,2569.0 508.2,2563.6 510.2,2597.5 512.3,2512.8 514.4,2526.9 516.4,2524.6 518.5,2580.6 520.5,2548.3 522.6,2512.4 524.7,2498.9 526.7,2540.3 528.8,2494.2 530.9,2473.7 532.9,2477.3 535.0,2528.0 537.1,2509.0 539.1,2488.0 541.2,2534.2 543.2,2530.6 545.3,2513.1 547.4,2507.1 549.4,2554.9 551.5,2523.4 553.6,2537.5 555.6,2526.7 557.7,2503.1 559.8,2525.2 561.8,2528.3 563.9,2532.0 566.0,2528.2 568.0,2554.9 570.1,2496.7 572.1,2534.0 574.2,2474.8 576.3,2520.0 578.3,2546.6 580.4,2527.7 582.5,2506.8 584.5,2542.7 586.6,2523.7 588.7,2555.4 590.7,2578.4 592.8,2544.0 594.8,2558.6 596.9,2537.2 599.0,2592.6 601.0,2570.6 603.1,2567.6 605.2,2556.6 607.2,2539.2 609.3,2557.6 611.4,2577.3 613.4,2601.7 615.5,2583.7 617.6,2611.8 619.6,2588.4 621.7,2619.0 623.7,2619.0 625.8,2606.7 627.9,2585.5 629.9,2582.2 632.0,2617.6 634.1,2599.3 636.1,2633.1 638.2,2638.9 641.3,2608.0 641.6,2587.0 643.2,2582.3 644.7,2582.0 645.5,2554.4 648.1,2546.7 649.3,2500.4 651.6,2438.8 654.3,2335.0 655.2,2329.0 656.8,2391.7 658.3,2446.5 660.6,2400.7 662.9,2337.0 665.5,2407.9 667.5,2469.6 669.4,2500.4 671.7,2577.5 673.2,2589.8 674.8,2623.8 676.9,2646.7 678.8,2637.2 680.7,2635.4 682.6,2628.9 684.5,2628.5 686.4,2626.3 688.2,2624.1 690.4,2623.5 692.5,2638.2 694.7,2642.9 696.5,2618.1 698.4,2616.6 700.9,2626.1 703.3,2629.8 703.7,2603.4 705.4,2591.8 707.2,2592.7 709.0,2584.6 712.0,2616.6 714.2,2594.6 716.5,2565.0 718.4,2578.8 720.3,2589.5 722.1,2609.0 724.8,2565.7 727.8,2603.4 730.1,2558.5 732.3,2526.2 734.8,2528.0 737.2,2543.1 739.1,2544.3 741.0,2524.4 742.9,2507.3 745.1,2558.0 747.4,2577.0 749.4,2577.1 751.4,2575.7 753.4,2573.3 754.9,2501.7 757.4,2507.5 759.8,2520.5 761.7,2502.3 763.6,2474.9 765.5,2471.6 768.5,2541.2 770.7,2535.6 773.0,2513.0 774.9,2449.0 777.3,2440.5 779.8,2415.1 782.0,2450.4 784.3,2460.3 787.3,2407.5 789.9,2433.9 789.8,2364.3 791.6,2326.6 794.3,2311.6 797.3,2334.2 800.3,2334.2 799.2,2289.0 801.1,2292.1 802.9,2281.5 802.2,2232.5 804.4,2224.4 806.7,2225.0 808.6,2197.0 810.5,2206.1 813.1,2194.8 815.4,2160.9 817.3,2130.8 819.9,2093.1 822.5,2089.4 824.8,2127.0 827.4,2063.0 830.4,2025.3 832.1,2024.9 833.8,2015.9 835.7,2117.6 837.6,2073.8 839.5,2025.3 842.5,2005.7 844.4,2063.0 846.3,2087.5 847.0,2130.8 848.1,2176.0 850.0,2228.7 851.9,2209.4 853.8,2206.1 856.4,2258.9 859.4,2223.1 861.3,2270.2 862.4,2304.0 865.1,2311.6 867.0,2345.5 869.6,2349.2 870.7,2375.6 872.6,2376.3 874.5,2386.9 876.4,2396.3 878.3,2393.6 880.2,2379.4 880.9,2409.9 880.3,2400.0 882.2,2445.2 884.1,2471.8 886.0,2467.8 887.9,2539.4 889.8,2541.4 891.6,2538.6 893.5,2541.2 895.4,2595.9 898.0,2577.0 901.1,2616.6 904.1,2569.5 906.0,2621.0 907.8,2658.0 909.7,2644.0 911.6,2610.9 913.5,2614.2 915.4,2637.3 916.9,2582.7 918.8,2584.2 920.6,2580.8 922.5,2546.9 924.4,2569.5 926.7,2529.9 929.3,2580.8 930.4,2637.3 932.3,2638.6 934.2,2652.4 936.1,2638.6 938.0,2624.1 940.6,2652.4 942.5,2651.4 944.4,2646.4 946.3,2642.9 949.3,2616.6 951.1,2612.8 953.0,2618.5 955.3,2613.3 957.6,2603.4 959.4,2550.7 960.6,2475.3 960.5,2430.0 961.8,2368.6 962.7,2300.5 963.4,2232.3 964.5,2152.7 965.7,2073.0 967.3,1958.0 967.5,1900.0 969.8,1900.0 970.0,1958.0 971.4,2107.0 972.3,2232.0 973.0,2346.0 973.6,2440.0 975.6,2475.3 978.3,2550.7 980.9,2558.2 982.8,2557.6 984.7,2580.8 986.9,2524.3 988.8,2495.3 990.5,2512.0 992.2,2516.8 994.5,2550.7 997.1,2595.9 999.0,2591.0 1000.9,2616.6 1002.7,2618.8 1004.6,2626.0 1006.5,2624.7 1008.4,2624.1 1010.3,2626.0 1012.2,2569.5 1014.0,2475.3 1015.6,2411.3 1016.9,2355.5 1018.7,2355.5 1020.1,2411.3 1020.8,2475.3 1022.7,2550.7 1025.3,2610.9 1027.2,2619.9 1029.1,2626.0 1031.0,2648.6 1033.6,2665.5 1036.6,2642.9 1038.5,2655.4 1040.4,2663.7 1042.3,2661.3 1044.2,2627.9 1046.1,2645.6 1047.9,2665.0 1049.8,2669.3 1052.5,2669.3 1055.5,2630.5 1057.4,2638.5 1059.2,2665.5 1061.1,2651.2 1063.0,2618.5 1064.9,2620.4 1066.8,2616.6 1068.7,2654.2 1071.3,2616.6 1074.3,2626.0 1077.3,2595.9 1079.5,2530.0 1081.0,2470.0 1082.3,2410.0 1083.5,2350.0 1085.0,2300.0 1085.8,2292.5 1087.0,2292.5 1088.0,2330.0 1089.0,2410.0 1090.0,2475.0 1091.6,2550.7 1093.9,2603.4 1096.9,2641.1 1099.9,2693.8 1101.8,2674.2 1103.8,2631.2 1106.8,2702.0 1108.7,2699.1 1110.5,2671.8 1112.3,2679.4 1114.1,2690.9 1115.8,2717.0 1118.8,2668.1 1121.1,2678.5 1123.4,2702.0 1125.6,2664.3 1127.5,2650.2 1129.4,2645.5 1131.3,2672.5 1133.1,2675.6 1135.4,2671.9 1137.7,2696.3 1140.7,2671.8 1142.6,2673.0 1144.4,2673.7 1147.1,2703.9 1149.0,2702.6 1150.8,2686.9 1152.7,2696.1 1154.6,2707.6 1157.3,2685.0 1160.3,2720.8 1162.1,2697.4 1164.0,2698.2 1167.0,2660.5 1169.3,2642.6 1171.6,2637.9 1174.6,2683.1 1176.8,2692.8 1179.1,2696.3 1181.4,2689.4 1183.6,2670.0 1186.1,2686.5 1188.5,2705.7 1190.8,2691.7 1193.0,2671.8 1196.0,2679.4 1197.9,2706.4 1199.8,2709.5 1202.3,2681.2 1204.7,2658.7 1206.4,2707.6 1208.1,2722.7 1210.2,2702.1 1212.2,2698.2 1214.9,2626.6 1217.5,2570.2 1219.8,2494.8 1222.0,2400.7 1223.5,2332.9 1226.2,2400.7 1228.1,2494.8 1230.3,2589.0 1232.6,2664.3 1235.6,2694.4 1237.5,2707.6 1240.1,2702.0 1243.1,2741.5 1246.1,2702.0 1248.8,2664.3 1251.4,2718.9 1253.3,2719.2 1255.2,2686.9 1257.6,2687.1 1260.1,2705.7 1262.7,2679.4 1265.2,2703.3 1267.6,2705.7 1270.2,2683.1 1273.3,2653.0 1275.1,2674.8 1277.0,2696.3 1278.9,2669.1 1280.8,2668.1 1283.4,2715.2 1285.3,2692.7 1287.2,2668.1 1289.3,2669.6 1291.3,2668.1 1294.0,2681.3 1295.9,2670.2 1297.7,2649.2 1299.6,2637.0 1301.5,2622.9 1304.1,2671.8 1306.4,2613.5 1308.3,2633.7 1310.2,2656.8 1312.8,2630.4 1314.7,2677.5 1317.7,2602.2 1319.6,2617.5 1321.5,2637.9 1323.2,2608.7 1324.9,2577.7 1327.9,2562.6 1330.5,2494.8 1332.8,2449.6 1334.3,2494.8 1335.4,2536.3 1338.0,2521.2 1340.3,2543.8 1341.8,2590.9 1343.7,2604.9 1345.6,2604.0 1347.8,2592.7 1349.3,2664.3 1351.2,2661.3 1353.1,2653.0 1355.4,2607.8 1358.0,2626.6 1359.9,2551.3 1361.8,2476.0 1363.7,2415.7 1366.3,2438.3 1368.2,2483.5 1371.2,2532.5 1374.2,2626.6 1375.7,2643.6 1378.2,2633.5 1380.6,2611.6 1383.2,2675.6 1386.3,2622.9 1389.3,2696.3 1391.5,2686.5 1393.8,2673.7 1396.8,2700.1 1398.5,2697.0 1400.2,2670.0 1403.2,2710.3 1406.2,2666.2 1407.9,2708.8 1409.6,2710.3 1412.6,2686.9 1414.5,2693.5 1416.4,2673.7 1418.3,2675.6 1420.2,2676.9 1422.0,2688.8 1424.7,2647.4 1427.7,2645.5 1430.3,2605.2 1433.3,2664.3 1436.3,2688.8 1439.0,2723.8 1441.6,2664.3 1444.6,2683.1 1446.5,2665.8 1448.4,2664.3 1450.3,2668.7 1452.2,2677.5 1454.0,2682.9 1455.9,2675.6 1458.9,2713.3 1461.2,2702.5 1463.5,2696.3 1465.3,2699.6 1467.2,2702.0 1470.2,2670.0 1472.9,2709.5 1474.8,2683.2 1476.6,2660.5 1479.7,2709.5 1482.3,2651.1 1484.2,2644.0 1486.1,2649.2 1487.9,2634.2 1489.8,2631.8 1491.7,2636.2 1493.6,2641.7 1496.2,2632.3 1498.5,2614.6 1500.8,2664.3 1503.0,2688.8 1504.9,2674.2 1506.8,2671.8 1508.7,2664.2 1510.5,2660.5 1513.2,2707.6 1515.3,2691.4 1517.3,2683.1 1519.0,2701.5 1520.7,2723.8 1523.7,2679.4 1525.6,2678.6 1527.5,2705.7 1529.4,2703.1 1531.3,2683.1 1533.1,2702.4 1535.0,2713.3 1537.7,2681.3 1539.5,2691.1 1541.4,2713.3 1543.5,2696.8 1545.6,2688.8 1548.2,2711.4 1551.2,2690.7 1553.9,2664.3 1556.5,2637.9"/></g>
<text x="112.6" y="3124.2" font-size="68" text-anchor="middle" >5</text>
<text x="319.0" y="3124.2" font-size="68" text-anchor="middle" >10</text>
<text x="525.4" y="3124.2" font-size="68" text-anchor="middle" >15</text>
<text x="731.8000000000001" y="3124.2" font-size="68" text-anchor="middle" >20</text>
<text x="938.2" y="3124.2" font-size="68" text-anchor="middle" >25</text>
<text x="1144.6" y="3124.2" font-size="68" text-anchor="middle" >30</text>
<text x="1351.0" y="3124.2" font-size="68" text-anchor="middle" >35</text>
<text x="1557.3999999999999" y="3124.2" font-size="68" text-anchor="middle" >40</text>
<line x1="1033" y1="1847.9" x2="1252.6" y2="1847.9" stroke="#f00" stroke-width="6.3" stroke-linecap="round"/>
<text x="1276" y="1879.3" font-size="86.8" text-anchor="start" id="swanson">Iron citrate Swanson</text>
<line x1="1276" y1="1890.9" x2="2067" y2="1890.9" stroke="#000" stroke-width="7" stroke-linecap="butt"/>
<line x1="1033" y1="1953.8" x2="1252.6" y2="1953.8" stroke="#00f" stroke-width="6.3" stroke-linecap="round"/>
<text x="1276.7" y="1984.2" font-size="86.8" text-anchor="start" >iron (III) citrate</text>
<text x="965" y="1942.3" font-size="71" text-anchor="middle" >t</text>
<text transform="translate(88.3,2653) rotate(-90)" font-size="85.7" id="ylabC">intensity (a.u.)</text>
<text x="734.9" y="3258.8" font-size="88.5" text-anchor="start" >2</text>
<text x="784.7" y="3258.8" font-size="83" text-anchor="start" class="sf">Θ</text>
<text x="867.9" y="3258.8" font-size="85" text-anchor="start" >(</text>
<text x="896" y="3211.3" font-size="51" text-anchor="start" >o</text>
<text x="924.6" y="3259" font-size="86.5" text-anchor="start" >C</text>
<text x="990.5" y="3258.8" font-size="85" text-anchor="start" >)</text>
</g>
<g class="sf" font-size="85" text-anchor="middle"><text x="1040.3" y="3435.6">(<tspan font-weight="bold">c</tspan>)</text></g>
</svg>
</body></html>
